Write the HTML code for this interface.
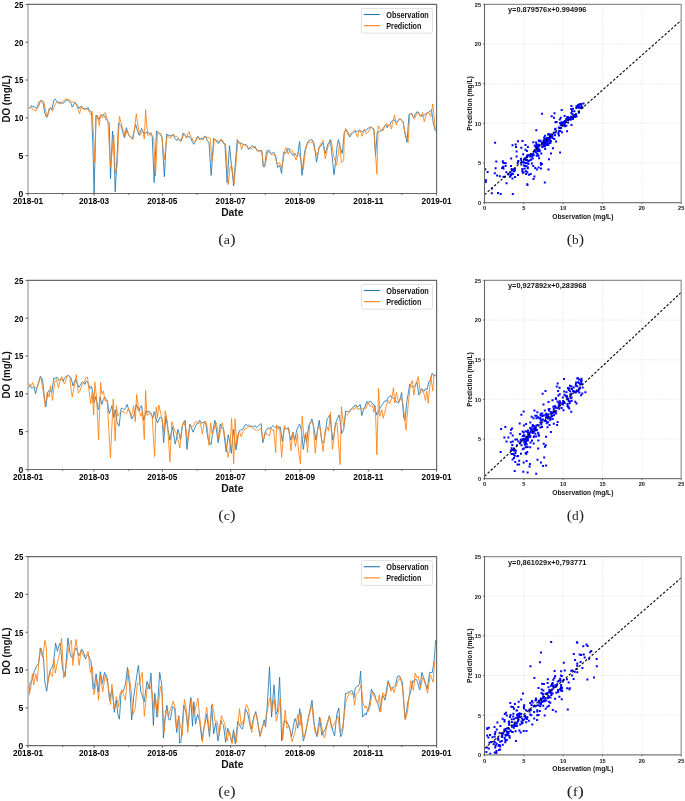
<!DOCTYPE html>
<html><head><meta charset="utf-8"><style>
html,body{margin:0;padding:0;background:#fff;}
svg{display:block;}
.tk{font-family:'Liberation Sans', Arial, sans-serif;font-size:8.6px;font-weight:bold;fill:#000;}
.lb{font-family:'Liberation Sans', Arial, sans-serif;font-size:10.3px;font-weight:bold;fill:#111;}
.lg{font-family:'Liberation Sans', Arial, sans-serif;font-size:8.6px;font-weight:bold;fill:#111;}
.st{font-family:'Liberation Sans', Arial, sans-serif;font-size:5.6px;font-weight:bold;fill:#111;}
.sl{font-family:'Liberation Sans', Arial, sans-serif;font-size:6.9px;font-weight:bold;fill:#111;}
.eq{font-family:'Liberation Sans', Arial, sans-serif;font-size:7.4px;font-weight:bold;fill:#111;}
.cap{font-family:'Liberation Serif', 'Times New Roman', serif;font-size:15px;fill:#222;}
</style></head><body>
<svg width="685" height="801" viewBox="0 0 685 801">
<rect width="685" height="801" fill="#fff"/>
<clipPath id="cp0"><rect x="28.0" y="4.4" width="408.6" height="189.1"/></clipPath>
<g clip-path="url(#cp0)" fill="none" stroke-width="0.85" stroke-linejoin="round">
<polyline stroke="#1f77b4" points="28.0,107.2 29.2,107.6 30.4,107.5 31.5,105.3 32.7,106.8 33.9,106.5 35.2,107.7 36.6,108.5 37.9,105.1 39.2,101.9 41.2,100.3 43.2,103.2 44.5,111.5 45.8,116.5 47.2,117.1 49.2,108.5 50.5,108.0 51.8,109.8 53.8,100.6 55.1,99.0 56.4,100.6 58.4,103.2 60.4,101.9 61.8,103.3 63.1,103.2 64.4,102.1 65.7,101.1 67.0,99.3 68.3,100.8 69.7,101.9 71.0,103.6 72.3,107.2 73.7,104.8 75.0,102.6 76.3,103.9 77.6,105.4 78.9,108.5 80.2,106.7 81.6,107.2 82.9,108.7 84.2,108.5 85.6,108.3 86.9,108.5 88.2,107.5 89.5,110.5 91.5,111.8 92.8,142.9 94.1,193.2 96.0,115.1 97.3,116.9 98.6,120.4 99.9,116.8 101.3,115.1 102.9,114.9 104.6,115.8 105.9,119.1 107.2,120.4 109.2,123.1 110.5,178.7 112.5,131.0 113.8,145.6 115.2,191.9 116.5,169.4 118.5,123.1 119.8,124.3 121.1,125.7 122.8,131.9 124.4,137.6 126.4,127.7 127.8,132.8 129.1,135.7 130.8,137.4 132.4,139.0 134.1,130.9 135.7,124.4 137.3,130.3 139.0,135.0 140.3,132.3 141.6,128.4 142.9,131.2 144.3,133.7 145.6,133.0 147.0,132.4 148.3,132.3 149.6,133.9 150.9,133.8 152.2,136.3 154.2,182.6 155.3,156.5 156.5,131.0 158.0,132.2 159.5,133.7 160.8,135.7 162.1,137.0 163.2,157.8 164.4,176.7 166.6,134.3 168.2,135.0 169.9,135.7 171.6,136.1 173.2,134.3 174.6,137.6 175.9,139.6 177.2,140.4 178.5,138.3 179.8,139.6 181.2,140.9 183.2,133.0 184.8,134.7 186.5,137.6 188.2,136.3 189.8,137.0 191.1,138.7 192.5,142.5 193.8,144.3 195.4,141.1 197.1,137.0 198.2,136.4 199.4,139.2 200.5,138.6 201.7,138.3 203.0,139.1 204.4,136.3 205.7,136.3 207.3,140.5 209.0,142.9 211.2,175.4 212.4,157.8 213.6,138.3 214.8,139.7 215.9,140.0 217.0,142.2 218.2,143.6 219.6,142.4 220.9,139.6 222.2,141.0 223.6,143.2 224.9,143.6 227.1,182.6 228.3,164.6 229.5,145.6 231.6,166.8 233.7,185.9 235.3,164.1 237.3,139.6 238.6,141.7 239.9,142.9 241.6,143.4 243.2,144.3 244.5,144.7 245.9,144.4 247.2,146.2 248.5,149.4 249.8,148.2 251.2,146.4 252.5,145.6 253.8,147.6 255.2,147.0 256.5,149.5 257.8,151.4 259.1,150.4 260.4,150.9 261.8,150.2 263.1,166.8 264.7,166.8 266.4,152.2 267.7,150.3 269.0,150.2 270.4,152.7 271.7,153.5 273.7,152.2 275.7,156.2 277.6,167.4 279.6,165.4 281.6,173.4 283.6,152.2 285.6,153.5 286.9,150.9 288.2,148.2 289.9,151.2 291.5,153.5 293.1,155.4 294.8,153.5 296.1,155.5 297.5,156.2 299.6,141.6 300.8,158.9 302.0,175.4 303.3,163.3 304.6,152.2 306.2,146.0 307.9,141.6 309.2,140.4 310.6,139.9 311.9,139.6 313.9,142.9 315.2,151.5 316.5,162.1 317.9,154.7 319.2,146.9 320.9,146.3 322.5,142.9 323.8,145.9 325.1,153.5 326.5,149.4 327.8,144.3 329.1,142.1 330.4,139.6 331.6,151.5 332.8,162.8 334.0,174.7 335.5,162.6 337.0,146.9 338.4,139.6 340.3,148.2 342.3,153.5 344.3,132.3 346.3,129.7 348.0,132.3 349.6,137.0 350.9,135.2 352.3,133.6 353.6,132.3 354.9,131.9 356.2,131.6 357.5,131.0 358.8,131.2 360.2,130.2 361.5,131.7 362.8,131.6 364.2,129.9 365.5,130.4 366.8,129.7 368.1,128.0 369.3,127.9 370.6,126.8 372.2,128.4 373.9,129.0 375.5,156.2 377.2,132.3 378.3,131.5 379.5,131.7 380.6,131.0 381.9,130.6 383.2,128.3 384.5,126.4 385.8,124.9 387.2,127.7 388.5,125.1 389.8,124.9 391.2,121.8 392.5,121.1 393.8,119.7 395.1,120.8 396.4,121.8 397.6,121.7 398.8,119.9 399.9,118.6 401.1,119.8 403.1,121.8 405.0,133.7 407.0,142.3 409.0,114.5 410.4,114.1 411.7,113.8 413.6,117.8 415.2,114.3 416.9,111.8 418.0,112.0 419.2,113.5 420.3,115.8 422.0,116.0 423.6,115.1 424.9,114.8 426.2,113.1 427.5,113.2 428.8,111.9 430.2,111.0 431.5,109.8 433.5,124.4 435.5,131.0"/>
<polyline stroke="#ff7f0e" points="28.0,106.5 29.1,108.0 30.3,107.9 31.5,107.3 32.6,109.2 34.2,110.1 35.9,111.2 37.9,107.2 39.2,105.7 40.6,100.6 42.2,101.0 43.9,101.9 45.5,110.1 47.2,117.1 48.5,112.9 49.8,107.9 51.1,107.9 52.5,111.2 54.5,105.9 56.1,102.9 57.8,101.2 59.7,103.9 61.0,103.7 62.4,101.9 63.5,101.1 64.7,99.7 65.8,99.6 67.0,98.6 68.3,100.1 69.7,99.8 71.0,101.9 72.3,102.1 73.7,102.1 75.0,101.9 76.9,106.5 78.2,109.9 79.6,113.8 81.6,105.9 82.9,108.7 84.2,109.2 85.5,109.3 86.9,109.1 88.2,109.8 89.5,112.3 90.8,114.5 92.2,111.2 93.5,136.2 94.8,162.1 96.0,116.5 97.7,115.1 99.3,125.7 100.6,114.5 102.6,117.8 103.9,113.9 105.2,112.5 106.6,117.1 107.9,121.8 109.2,143.8 110.5,166.8 112.2,151.1 113.8,135.0 115.2,173.4 117.2,165.4 119.4,116.5 121.0,122.6 122.5,128.4 123.8,130.5 125.1,136.3 127.1,129.7 128.4,133.6 129.7,136.3 131.3,137.7 133.0,139.6 134.7,126.5 136.3,113.8 137.4,121.8 138.6,129.1 139.7,135.7 141.3,133.2 143.0,131.0 144.3,139.0 145.6,109.8 147.6,135.0 149.2,135.4 150.9,132.3 152.2,135.8 153.5,137.6 155.5,176.0 157.5,132.3 159.2,133.0 160.8,133.7 162.0,137.6 163.2,149.6 164.4,159.5 165.9,145.8 167.3,135.0 168.6,136.5 169.9,138.3 171.2,137.2 172.6,134.3 173.8,135.2 174.9,136.9 176.0,135.7 177.2,137.0 178.8,139.7 180.5,141.6 182.2,138.9 183.8,133.7 185.2,135.0 186.5,138.3 187.8,133.7 189.1,131.7 190.5,136.3 191.8,137.5 193.1,141.0 194.4,142.3 196.1,140.7 197.7,136.3 199.0,138.7 200.4,140.2 201.7,139.6 202.8,140.2 204.0,138.2 205.2,136.9 206.3,137.0 207.6,137.6 209.0,137.4 210.3,139.0 212.0,161.5 213.2,151.7 214.3,139.0 215.5,139.5 216.6,140.6 217.8,140.1 218.9,142.3 220.2,140.3 221.5,139.6 222.8,140.5 224.2,144.6 225.5,144.3 226.8,163.9 228.2,184.6 230.1,166.8 232.0,166.8 234.0,184.0 236.0,162.8 237.9,140.9 239.1,143.4 240.3,142.9 241.6,149.5 243.2,144.3 244.4,145.1 245.6,145.4 246.8,145.2 248.1,148.5 249.3,147.8 250.5,148.9 252.2,148.2 253.8,146.9 255.1,146.1 256.5,150.3 257.8,150.2 259.1,151.0 260.5,151.1 261.8,151.5 263.7,166.8 265.7,162.8 267.7,151.5 269.4,152.5 271.0,154.2 272.3,154.6 273.7,155.0 275.0,154.8 276.3,161.2 277.6,164.1 279.6,162.8 281.6,168.1 283.0,161.2 284.3,151.5 286.2,147.6 288.2,154.2 290.2,148.9 291.5,150.3 292.9,152.2 294.5,156.2 296.2,160.1 298.1,152.2 299.4,154.4 300.6,158.8 302.0,164.3 303.3,169.4 305.3,150.9 307.0,145.1 308.6,141.6 310.6,142.9 312.6,140.9 313.9,146.4 315.2,150.9 317.2,155.5 318.5,150.4 319.8,145.6 321.5,142.6 323.1,140.3 325.1,158.8 326.5,153.6 327.8,146.9 329.5,143.9 331.1,140.3 332.4,148.2 333.7,156.2 335.0,160.2 336.4,165.4 338.4,153.5 339.7,142.9 341.4,162.8 342.5,161.6 343.7,160.8 344.3,133.7 345.6,128.4 347.2,132.8 348.9,135.7 350.0,134.2 351.2,133.0 352.3,132.3 353.6,131.0 354.9,129.7 356.2,133.5 357.5,137.0 359.5,129.7 360.9,132.5 362.2,136.3 364.2,129.0 366.1,133.7 367.4,132.7 368.6,131.7 370.6,127.1 372.2,127.4 373.9,129.7 375.4,151.8 376.9,174.0 378.2,125.7 379.4,127.7 380.6,129.7 381.9,130.6 383.2,130.4 384.9,126.1 386.5,123.1 387.8,126.3 389.2,124.4 390.5,125.1 391.4,129.0 392.9,121.6 394.5,115.1 396.2,125.1 397.8,121.1 399.1,119.3 400.4,119.1 401.8,120.6 403.1,121.8 404.4,129.9 405.7,135.0 406.9,137.5 408.1,142.3 409.7,115.1 411.7,113.2 413.0,116.6 414.3,119.1 416.0,115.3 417.6,112.5 419.2,114.2 420.9,117.1 422.6,112.5 424.2,121.8 426.2,115.1 427.5,112.8 428.9,112.5 430.8,116.5 432.8,103.9 434.1,116.5 435.5,131.0"/>
</g>
<line x1="28.0" y1="4.4" x2="28.0" y2="193.5" stroke="#bdbdbd" stroke-width="1.8"/>
<line x1="27.5" y1="4.4" x2="437.1" y2="4.4" stroke="#6a6a6a" stroke-width="1.2"/>
<line x1="27.5" y1="193.5" x2="437.1" y2="193.5" stroke="#6a6a6a" stroke-width="1.2"/>
<line x1="436.6" y1="4.4" x2="436.6" y2="193.5" stroke="#6a6a6a" stroke-width="1.2"/>
<line x1="25.5" y1="193.50" x2="28.0" y2="193.50" stroke="#555" stroke-width="0.9"/>
<text x="23.4" y="196.90" text-anchor="end" class="tk">0</text>
<line x1="25.5" y1="155.68" x2="28.0" y2="155.68" stroke="#555" stroke-width="0.9"/>
<text x="23.4" y="159.08" text-anchor="end" class="tk">5</text>
<line x1="25.5" y1="117.86" x2="28.0" y2="117.86" stroke="#555" stroke-width="0.9"/>
<text x="23.4" y="121.26" text-anchor="end" class="tk" textLength="8.8" lengthAdjust="spacingAndGlyphs">10</text>
<line x1="25.5" y1="80.04" x2="28.0" y2="80.04" stroke="#555" stroke-width="0.9"/>
<text x="23.4" y="83.44" text-anchor="end" class="tk" textLength="8.8" lengthAdjust="spacingAndGlyphs">15</text>
<line x1="25.5" y1="42.22" x2="28.0" y2="42.22" stroke="#555" stroke-width="0.9"/>
<text x="23.4" y="45.62" text-anchor="end" class="tk" textLength="8.8" lengthAdjust="spacingAndGlyphs">20</text>
<line x1="25.5" y1="4.40" x2="28.0" y2="4.40" stroke="#555" stroke-width="0.9"/>
<text x="23.4" y="7.80" text-anchor="end" class="tk" textLength="8.8" lengthAdjust="spacingAndGlyphs">25</text>
<line x1="28.00" y1="193.5" x2="28.00" y2="195.7" stroke="#555" stroke-width="0.9"/>
<text x="28.00" y="204.00" text-anchor="middle" class="tk" textLength="30" lengthAdjust="spacingAndGlyphs">2018-01</text>
<line x1="62.70" y1="193.5" x2="62.70" y2="194.9" stroke="#555" stroke-width="0.9"/>
<line x1="94.05" y1="193.5" x2="94.05" y2="195.7" stroke="#555" stroke-width="0.9"/>
<text x="94.05" y="204.00" text-anchor="middle" class="tk" textLength="30" lengthAdjust="spacingAndGlyphs">2018-03</text>
<line x1="128.75" y1="193.5" x2="128.75" y2="194.9" stroke="#555" stroke-width="0.9"/>
<line x1="162.33" y1="193.5" x2="162.33" y2="195.7" stroke="#555" stroke-width="0.9"/>
<text x="162.33" y="204.00" text-anchor="middle" class="tk" textLength="30" lengthAdjust="spacingAndGlyphs">2018-05</text>
<line x1="197.04" y1="193.5" x2="197.04" y2="194.9" stroke="#555" stroke-width="0.9"/>
<line x1="230.62" y1="193.5" x2="230.62" y2="195.7" stroke="#555" stroke-width="0.9"/>
<text x="230.62" y="204.00" text-anchor="middle" class="tk" textLength="30" lengthAdjust="spacingAndGlyphs">2018-07</text>
<line x1="265.32" y1="193.5" x2="265.32" y2="194.9" stroke="#555" stroke-width="0.9"/>
<line x1="300.03" y1="193.5" x2="300.03" y2="195.7" stroke="#555" stroke-width="0.9"/>
<text x="300.03" y="204.00" text-anchor="middle" class="tk" textLength="30" lengthAdjust="spacingAndGlyphs">2018-09</text>
<line x1="333.61" y1="193.5" x2="333.61" y2="194.9" stroke="#555" stroke-width="0.9"/>
<line x1="368.31" y1="193.5" x2="368.31" y2="195.7" stroke="#555" stroke-width="0.9"/>
<text x="368.31" y="204.00" text-anchor="middle" class="tk" textLength="30" lengthAdjust="spacingAndGlyphs">2018-11</text>
<line x1="401.90" y1="193.5" x2="401.90" y2="194.9" stroke="#555" stroke-width="0.9"/>
<line x1="436.60" y1="193.5" x2="436.60" y2="195.7" stroke="#555" stroke-width="0.9"/>
<text x="436.60" y="204.00" text-anchor="middle" class="tk" textLength="30" lengthAdjust="spacingAndGlyphs">2019-01</text>
<text x="232.30" y="216.00" text-anchor="middle" class="lb">Date</text>
<text transform="translate(10.4,98.95) rotate(-90)" text-anchor="middle" class="lb" textLength="47.3" lengthAdjust="spacingAndGlyphs">DO (mg/L)</text>
<rect x="361.5" y="8.4" width="71" height="24.8" rx="1.8" fill="#fff" fill-opacity="0.8" stroke="#d9d9d9" stroke-width="0.8"/>
<line x1="363.7" y1="14.50" x2="379.8" y2="14.50" stroke="#1f77b4" stroke-width="1.1"/>
<line x1="363.7" y1="25.70" x2="379.8" y2="25.70" stroke="#ff7f0e" stroke-width="1.1"/>
<text x="386.3" y="17.80" class="lg" textLength="42.5" lengthAdjust="spacingAndGlyphs">Observation</text>
<text x="386.3" y="29.00" class="lg" textLength="35.1" lengthAdjust="spacingAndGlyphs">Prediction</text>
<line x1="523.84" y1="4.4" x2="523.84" y2="202.6" stroke="#e4e4e4" stroke-width="0.8" stroke-dasharray="1.2,0.9"/>
<line x1="484.5" y1="162.96" x2="681.2" y2="162.96" stroke="#e4e4e4" stroke-width="0.8" stroke-dasharray="1.2,0.9"/>
<line x1="563.18" y1="4.4" x2="563.18" y2="202.6" stroke="#e4e4e4" stroke-width="0.8" stroke-dasharray="1.2,0.9"/>
<line x1="484.5" y1="123.32" x2="681.2" y2="123.32" stroke="#e4e4e4" stroke-width="0.8" stroke-dasharray="1.2,0.9"/>
<line x1="602.52" y1="4.4" x2="602.52" y2="202.6" stroke="#e4e4e4" stroke-width="0.8" stroke-dasharray="1.2,0.9"/>
<line x1="484.5" y1="83.68" x2="681.2" y2="83.68" stroke="#e4e4e4" stroke-width="0.8" stroke-dasharray="1.2,0.9"/>
<line x1="641.86" y1="4.4" x2="641.86" y2="202.6" stroke="#e4e4e4" stroke-width="0.8" stroke-dasharray="1.2,0.9"/>
<line x1="484.5" y1="44.04" x2="681.2" y2="44.04" stroke="#e4e4e4" stroke-width="0.8" stroke-dasharray="1.2,0.9"/>
<clipPath id="sc0"><rect x="484.5" y="4.4" width="196.70000000000005" height="198.2"/></clipPath>
<path clip-path="url(#sc0)" fill="#0000ff" d="M573.4 110.2h2v2h-2zM575.6 115.4h2v2h-2zM572.7 114.6h2v2h-2zM573.9 114.0h2v2h-2zM571.5 113.2h2v2h-2zM575.0 113.8h2v2h-2zM581.5 106.5h2v2h-2zM580.2 103.0h2v2h-2zM580.4 105.0h2v2h-2zM578.5 103.3h2v2h-2zM575.3 107.1h2v2h-2zM563.6 114.9h2v2h-2zM563.8 119.9h2v2h-2zM570.5 112.2h2v2h-2zM571.1 110.1h2v2h-2zM569.9 116.0h2v2h-2zM572.0 117.9h2v2h-2zM578.0 111.2h2v2h-2zM577.8 111.8h2v2h-2zM579.8 107.1h2v2h-2zM578.0 106.7h2v2h-2zM577.0 104.2h2v2h-2zM578.4 106.5h2v2h-2zM576.9 106.4h2v2h-2zM577.7 105.6h2v2h-2zM577.8 105.0h2v2h-2zM582.5 102.6h2v2h-2zM577.6 103.9h2v2h-2zM575.5 105.2h2v2h-2zM570.4 104.9h2v2h-2zM577.3 106.2h2v2h-2zM572.0 107.7h2v2h-2zM569.9 115.7h2v2h-2zM573.8 116.1h2v2h-2zM570.2 107.9h2v2h-2zM573.0 114.5h2v2h-2zM572.4 116.1h2v2h-2zM570.4 112.1h2v2h-2zM570.5 116.9h2v2h-2zM569.7 118.7h2v2h-2zM570.0 117.4h2v2h-2zM550.7 115.2h2v2h-2zM535.3 129.3h2v2h-2zM512.3 169.4h2v2h-2zM565.0 120.9h2v2h-2zM560.3 122.8h2v2h-2zM561.1 124.5h2v2h-2zM558.3 130.1h2v2h-2zM562.1 121.3h2v2h-2zM563.7 121.1h2v2h-2zM561.8 122.2h2v2h-2zM567.0 117.1h2v2h-2zM559.8 116.7h2v2h-2zM559.1 121.9h2v2h-2zM557.8 126.4h2v2h-2zM559.1 151.5h2v2h-2zM496.1 174.6h2v2h-2zM550.0 152.4h2v2h-2zM532.3 141.2h2v2h-2zM484.9 179.3h2v2h-2zM507.6 173.6h2v2h-2zM526.3 171.3h2v2h-2zM555.1 140.4h2v2h-2zM555.7 121.1h2v2h-2zM554.5 127.7h2v2h-2zM551.4 134.2h2v2h-2zM538.2 140.3h2v2h-2zM547.4 143.9h2v2h-2zM553.3 137.9h2v2h-2zM549.1 136.3h2v2h-2zM544.1 142.1h2v2h-2zM542.3 141.4h2v2h-2zM542.5 143.8h2v2h-2zM543.2 145.6h2v2h-2zM555.1 121.0h2v2h-2zM553.0 116.7h2v2h-2zM544.1 134.8h2v2h-2zM545.9 141.9h2v2h-2zM550.0 140.3h2v2h-2zM551.3 135.3h2v2h-2zM543.0 144.0h2v2h-2zM541.1 112.8h2v2h-2zM546.7 139.7h2v2h-2zM547.0 137.9h2v2h-2zM544.9 137.9h2v2h-2zM542.7 139.3h2v2h-2zM511.5 144.3h2v2h-2zM495.3 160.4h2v2h-2zM526.5 183.9h2v2h-2zM547.9 158.2h2v2h-2zM547.0 139.8h2v2h-2zM548.5 136.9h2v2h-2zM544.7 139.9h2v2h-2zM541.0 143.6h2v2h-2zM545.6 143.9h2v2h-2zM502.1 165.7h2v2h-2zM544.2 147.9h2v2h-2zM543.1 140.1h2v2h-2zM544.0 143.1h2v2h-2zM543.6 138.4h2v2h-2zM543.6 141.0h2v2h-2zM537.7 139.4h2v2h-2zM539.5 139.7h2v2h-2zM542.5 140.8h2v2h-2zM538.3 149.1h2v2h-2zM536.2 145.2h2v2h-2zM547.4 143.1h2v2h-2zM545.7 138.4h2v2h-2zM542.8 143.0h2v2h-2zM543.8 138.5h2v2h-2zM542.0 141.5h2v2h-2zM540.7 141.4h2v2h-2zM534.6 146.1h2v2h-2zM534.5 149.1h2v2h-2zM543.2 143.2h2v2h-2zM544.0 145.3h2v2h-2zM541.2 146.1h2v2h-2zM542.7 142.5h2v2h-2zM541.4 142.2h2v2h-2zM535.0 141.5h2v2h-2zM515.0 146.1h2v2h-2zM501.8 160.2h2v2h-2zM514.0 167.4h2v2h-2zM540.3 152.5h2v2h-2zM537.8 144.1h2v2h-2zM535.9 146.4h2v2h-2zM536.6 147.1h2v2h-2zM537.9 143.7h2v2h-2zM535.7 143.2h2v2h-2zM535.4 151.7h2v2h-2zM525.9 150.1h2v2h-2zM493.8 172.2h2v2h-2zM511.8 192.9h2v2h-2zM532.5 178.1h2v2h-2zM527.9 173.7h2v2h-2zM510.0 174.2h2v2h-2zM508.9 171.4h2v2h-2zM491.0 187.5h2v2h-2zM497.0 192.0h2v2h-2zM514.1 175.9h2v2h-2zM522.7 171.3h2v2h-2zM537.5 154.8h2v2h-2zM537.8 145.2h2v2h-2zM535.8 148.2h2v2h-2zM536.9 150.1h2v2h-2zM535.7 154.8h2v2h-2zM533.7 149.6h2v2h-2zM533.3 150.8h2v2h-2zM532.0 153.0h2v2h-2zM531.1 155.2h2v2h-2zM532.7 154.3h2v2h-2zM531.4 153.0h2v2h-2zM530.4 155.4h2v2h-2zM529.5 154.1h2v2h-2zM526.5 154.8h2v2h-2zM529.1 155.6h2v2h-2zM510.6 168.0h2v2h-2zM510.2 174.0h2v2h-2zM513.0 170.2h2v2h-2zM521.4 169.9h2v2h-2zM525.4 164.9h2v2h-2zM527.6 160.0h2v2h-2zM529.3 159.3h2v2h-2zM525.1 158.4h2v2h-2zM524.9 162.0h2v2h-2zM527.4 163.0h2v2h-2zM521.2 161.3h2v2h-2zM522.8 161.3h2v2h-2zM511.7 168.7h2v2h-2zM513.4 169.9h2v2h-2zM502.5 175.7h2v2h-2zM526.9 162.2h2v2h-2zM524.8 158.9h2v2h-2zM525.9 154.7h2v2h-2zM527.2 153.9h2v2h-2zM530.9 162.5h2v2h-2zM526.2 155.7h2v2h-2zM524.3 156.9h2v2h-2zM526.3 159.5h2v2h-2zM523.8 164.7h2v2h-2zM524.4 165.3h2v2h-2zM523.0 158.2h2v2h-2zM526.2 158.7h2v2h-2zM540.9 163.1h2v2h-2zM522.9 164.5h2v2h-2zM505.4 171.3h2v2h-2zM511.5 177.5h2v2h-2zM523.3 161.8h2v2h-2zM530.2 158.4h2v2h-2zM538.4 150.3h2v2h-2zM537.4 148.2h2v2h-2zM538.8 149.8h2v2h-2zM536.9 147.5h2v2h-2zM537.5 145.6h2v2h-2zM534.7 149.7h2v2h-2zM525.8 156.0h2v2h-2zM517.4 160.0h2v2h-2zM520.3 163.6h2v2h-2zM532.5 153.9h2v2h-2zM531.7 152.7h2v2h-2zM535.5 147.0h2v2h-2zM533.7 144.4h2v2h-2zM524.7 164.9h2v2h-2zM536.5 153.1h2v2h-2zM538.3 148.4h2v2h-2zM535.1 145.9h2v2h-2zM504.7 162.3h2v2h-2zM504.6 164.9h2v2h-2zM525.1 172.9h2v2h-2zM534.3 167.1h2v2h-2zM539.8 162.0h2v2h-2zM534.0 149.2h2v2h-2zM531.7 157.6h2v2h-2zM526.7 167.2h2v2h-2zM523.6 167.7h2v2h-2zM537.7 166.6h2v2h-2zM548.9 138.4h2v2h-2zM547.9 133.0h2v2h-2zM549.0 134.6h2v2h-2zM543.8 143.3h2v2h-2zM545.1 139.9h2v2h-2zM543.1 136.6h2v2h-2zM547.5 138.1h2v2h-2zM547.0 133.6h2v2h-2zM549.3 141.4h2v2h-2zM545.6 136.9h2v2h-2zM547.2 140.5h2v2h-2zM549.2 142.1h2v2h-2zM550.9 134.7h2v2h-2zM551.4 136.8h2v2h-2zM548.4 140.7h2v2h-2zM551.5 137.1h2v2h-2zM552.7 131.7h2v2h-2zM548.6 133.7h2v2h-2zM520.3 159.4h2v2h-2zM543.8 181.5h2v2h-2zM547.5 168.5h2v2h-2zM547.4 133.4h2v2h-2zM550.2 133.4h2v2h-2zM550.3 135.9h2v2h-2zM554.0 134.2h2v2h-2zM554.0 128.4h2v2h-2zM554.6 131.5h2v2h-2zM557.4 132.8h2v2h-2zM557.9 134.5h2v2h-2zM559.2 129.9h2v2h-2zM558.8 118.4h2v2h-2zM560.9 131.2h2v2h-2zM557.6 131.2h2v2h-2zM560.1 127.1h2v2h-2zM560.7 121.2h2v2h-2zM559.7 124.3h2v2h-2zM559.2 127.3h2v2h-2zM544.5 138.0h2v2h-2zM544.2 141.9h2v2h-2zM535.6 144.7h2v2h-2zM552.0 147.3h2v2h-2zM566.1 130.3h2v2h-2zM567.0 117.8h2v2h-2zM567.7 117.0h2v2h-2zM563.5 122.9h2v2h-2zM563.3 124.8h2v2h-2zM567.1 121.5h2v2h-2zM568.4 118.2h2v2h-2zM564.8 120.0h2v2h-2zM563.1 122.0h2v2h-2zM566.2 116.2h2v2h-2zM565.3 124.7h2v2h-2zM564.0 125.2h2v2h-2zM567.0 119.0h2v2h-2zM565.2 118.1h2v2h-2zM567.0 116.1h2v2h-2zM570.5 124.1h2v2h-2zM568.4 117.1h2v2h-2zM560.7 109.0h2v2h-2zM553.5 112.2h2v2h-2zM554.4 121.2h2v2h-2zM547.5 136.8h2v2h-2zM494.1 141.7h2v2h-2zM516.9 140.3h2v2h-2zM521.5 140.1h2v2h-2zM514.7 143.6h2v2h-2zM520.3 146.7h2v2h-2zM524.5 144.1h2v2h-2zM526.9 146.0h2v2h-2zM524.5 148.8h2v2h-2zM515.6 150.4h2v2h-2zM522.2 153.3h2v2h-2zM515.6 155.6h2v2h-2zM510.2 157.4h2v2h-2zM519.9 157.7h2v2h-2zM502.1 161.4h2v2h-2zM503.0 162.1h2v2h-2zM517.0 160.5h2v2h-2zM516.6 162.3h2v2h-2zM510.0 165.0h2v2h-2zM494.6 167.3h2v2h-2zM501.1 167.0h2v2h-2zM502.5 167.5h2v2h-2zM484.3 168.2h2v2h-2zM486.6 171.0h2v2h-2zM521.3 168.0h2v2h-2zM521.7 171.7h2v2h-2zM513.8 168.9h2v2h-2zM511.0 172.6h2v2h-2zM511.9 173.1h2v2h-2zM510.0 174.0h2v2h-2zM517.0 174.0h2v2h-2zM498.8 175.2h2v2h-2zM503.9 175.7h2v2h-2zM509.1 175.7h2v2h-2zM484.7 181.1h2v2h-2zM505.5 182.2h2v2h-2zM526.2 183.2h2v2h-2zM490.8 192.3h2v2h-2zM499.7 193.0h2v2h-2zM529.7 173.1h2v2h-2zM533.4 175.4h2v2h-2zM535.8 168.4h2v2h-2zM532.3 165.1h2v2h-2zM525.0 170.3h2v2h-2zM526.9 166.6h2v2h-2zM524.1 164.7h2v2h-2zM538.1 157.2h2v2h-2zM540.0 163.7h2v2h-2zM540.0 167.5h2v2h-2z"/>
<line clip-path="url(#sc0)" x1="484.50" y1="194.71" x2="681.20" y2="20.38" stroke="#000" stroke-width="1.1" stroke-dasharray="2.5,1.8"/>
<line x1="484.0" y1="4.4" x2="681.7" y2="4.4" stroke="#8f8f8f" stroke-width="1.2"/>
<line x1="484.0" y1="202.6" x2="681.7" y2="202.6" stroke="#7a7a7a" stroke-width="1.2"/>
<line x1="484.5" y1="4.4" x2="484.5" y2="202.6" stroke="#666" stroke-width="1.1"/>
<line x1="681.2" y1="4.4" x2="681.2" y2="202.6" stroke="#a8a8a8" stroke-width="1.5"/>
<line x1="484.50" y1="202.6" x2="484.50" y2="204.2" stroke="#555" stroke-width="0.8"/>
<line x1="482.9" y1="202.60" x2="484.5" y2="202.60" stroke="#555" stroke-width="0.8"/>
<text x="484.50" y="210.40" text-anchor="middle" class="st">0</text>
<text x="481.10" y="205.00" text-anchor="end" class="st">0</text>
<line x1="523.84" y1="202.6" x2="523.84" y2="204.2" stroke="#555" stroke-width="0.8"/>
<line x1="482.9" y1="162.96" x2="484.5" y2="162.96" stroke="#555" stroke-width="0.8"/>
<text x="523.84" y="210.40" text-anchor="middle" class="st">5</text>
<text x="481.10" y="165.36" text-anchor="end" class="st">5</text>
<line x1="563.18" y1="202.6" x2="563.18" y2="204.2" stroke="#555" stroke-width="0.8"/>
<line x1="482.9" y1="123.32" x2="484.5" y2="123.32" stroke="#555" stroke-width="0.8"/>
<text x="563.18" y="210.40" text-anchor="middle" class="st">10</text>
<text x="481.10" y="125.72" text-anchor="end" class="st">10</text>
<line x1="602.52" y1="202.6" x2="602.52" y2="204.2" stroke="#555" stroke-width="0.8"/>
<line x1="482.9" y1="83.68" x2="484.5" y2="83.68" stroke="#555" stroke-width="0.8"/>
<text x="602.52" y="210.40" text-anchor="middle" class="st">15</text>
<text x="481.10" y="86.08" text-anchor="end" class="st">15</text>
<line x1="641.86" y1="202.6" x2="641.86" y2="204.2" stroke="#555" stroke-width="0.8"/>
<line x1="482.9" y1="44.04" x2="484.5" y2="44.04" stroke="#555" stroke-width="0.8"/>
<text x="641.86" y="210.40" text-anchor="middle" class="st">20</text>
<text x="481.10" y="46.44" text-anchor="end" class="st">20</text>
<line x1="681.20" y1="202.6" x2="681.20" y2="204.2" stroke="#555" stroke-width="0.8"/>
<line x1="482.9" y1="4.40" x2="484.5" y2="4.40" stroke="#555" stroke-width="0.8"/>
<text x="681.20" y="210.40" text-anchor="middle" class="st">25</text>
<text x="481.10" y="6.80" text-anchor="end" class="st">25</text>
<text x="582.85" y="218.90" text-anchor="middle" class="sl" textLength="61.1" lengthAdjust="spacingAndGlyphs">Observation (mg/L)</text>
<text transform="translate(471.6,103.50) rotate(-90)" text-anchor="middle" class="sl" textLength="54.5" lengthAdjust="spacingAndGlyphs">Prediction (mg/L)</text>
<text x="508.0" y="12.40" class="eq" textLength="78.4" lengthAdjust="spacingAndGlyphs">y=0.879576x+0.994996</text>
<text x="226.9" y="244.20000000000002" text-anchor="middle" class="cap" textLength="17.3" lengthAdjust="spacingAndGlyphs">(<tspan font-size="12.6px">a</tspan>)</text>
<text x="575.3" y="243.9" text-anchor="middle" class="cap" textLength="17.3" lengthAdjust="spacingAndGlyphs">(<tspan font-size="12.6px">b</tspan>)</text>
<clipPath id="cp1"><rect x="28.0" y="280.4" width="408.6" height="189.1"/></clipPath>
<g clip-path="url(#cp1)" fill="none" stroke-width="0.85" stroke-linejoin="round">
<polyline stroke="#1f77b4" points="28.0,387.2 30.0,385.8 32.0,388.5 33.9,386.5 35.5,393.8 37.2,387.2 38.8,382.3 40.3,376.3 42.5,379.2 44.5,399.1 45.8,407.0 47.8,392.5 49.8,389.8 51.8,392.5 53.8,377.9 55.5,378.3 57.1,377.2 59.1,380.6 61.1,378.6 63.1,381.2 64.4,378.2 65.7,376.6 67.0,376.1 68.3,375.3 69.7,376.4 71.0,377.9 73.0,385.8 74.3,382.3 75.6,379.2 77.2,383.8 78.9,387.2 80.6,385.0 82.2,381.9 83.6,382.5 84.9,384.5 86.2,381.2 87.5,381.9 88.8,385.0 90.2,388.5 91.5,386.5 92.8,392.5 94.1,403.0 96.0,396.4 97.3,405.1 98.6,409.7 100.0,397.1 101.9,404.4 103.2,399.6 104.6,397.1 105.9,399.4 107.2,400.4 109.2,413.6 110.6,410.4 111.9,405.7 113.8,417.6 115.2,409.7 117.2,422.9 119.1,426.2 121.1,408.3 122.4,408.3 123.8,409.7 125.4,408.6 127.1,404.4 128.4,408.4 129.7,411.0 131.7,418.9 133.7,415.6 135.0,410.8 136.3,404.4 137.7,408.1 139.0,411.0 140.3,406.8 141.6,405.7 143.6,420.3 144.9,415.7 146.3,410.3 147.5,412.8 148.6,411.1 149.8,411.8 150.9,413.6 152.9,418.3 154.2,411.7 155.8,418.0 157.5,422.9 158.8,419.8 160.2,416.9 162.1,418.9 163.6,442.7 164.8,429.2 166.0,416.3 168.0,429.5 169.9,440.1 171.2,433.1 172.6,426.9 173.9,436.2 175.2,444.1 176.6,438.0 177.9,429.5 179.2,433.8 180.5,440.1 182.5,425.5 183.8,423.0 185.2,420.3 186.9,449.4 188.4,436.2 189.8,424.2 191.4,427.9 193.1,432.2 194.8,428.0 196.4,424.2 198.1,423.3 199.7,420.3 201.1,422.6 202.4,422.9 204.1,422.3 205.7,422.9 207.0,432.6 208.3,440.1 209.7,442.4 211.0,444.7 212.9,430.8 214.9,420.3 216.6,431.0 218.2,442.7 220.2,424.2 221.8,427.6 223.5,429.5 224.8,441.1 226.2,452.0 228.2,434.8 230.0,442.7 231.3,453.3 233.3,429.5 234.7,439.8 236.0,450.0 237.9,434.8 239.2,430.7 240.6,430.2 241.9,429.7 243.2,428.9 244.6,425.9 245.9,424.2 247.2,425.6 248.5,425.2 249.8,426.2 251.1,426.0 252.5,426.6 253.8,426.9 255.1,425.5 256.5,427.7 257.8,426.2 259.5,424.9 261.1,423.6 262.8,442.7 264.0,438.2 265.1,432.2 266.4,430.2 267.7,428.2 269.7,428.2 271.4,427.5 273.0,425.5 275.0,427.5 276.3,427.1 277.6,426.2 279.0,427.7 280.3,426.9 282.3,441.4 284.3,428.2 285.6,428.4 286.9,428.8 288.2,427.5 289.5,434.3 290.9,440.1 292.9,432.2 294.8,440.1 296.8,429.5 298.1,426.9 299.6,424.2 301.3,429.5 303.3,449.4 305.3,434.8 306.6,442.7 308.6,425.5 310.2,423.2 311.9,418.9 313.9,428.2 315.9,440.1 317.5,430.1 319.2,420.3 320.5,430.7 321.8,441.4 323.8,442.7 325.5,431.5 327.1,418.9 328.5,417.4 329.8,415.0 331.2,426.6 332.7,440.1 334.2,433.6 335.7,422.9 337.4,418.7 339.0,415.0 340.4,422.9 341.7,433.5 343.7,429.5 345.6,411.0 347.2,411.5 348.9,411.7 350.0,410.8 351.2,409.1 352.3,408.3 354.0,406.0 355.6,405.0 357.2,406.3 358.9,406.4 360.2,404.4 361.8,415.6 363.5,409.7 364.8,407.0 366.8,401.7 368.4,402.4 370.0,401.1 371.3,402.1 372.6,404.0 373.9,404.4 375.4,410.3 376.9,415.0 378.4,411.8 379.9,408.3 381.5,405.7 383.2,403.1 384.9,400.9 386.5,401.1 388.1,397.7 389.8,395.8 391.1,396.0 392.5,397.8 393.8,398.6 395.1,400.4 396.8,401.7 398.4,403.1 400.0,398.9 401.7,392.5 403.7,417.6 405.0,420.3 407.0,400.4 408.4,392.7 409.7,383.9 411.0,386.0 412.3,387.2 413.6,386.9 415.0,385.8 416.9,381.9 418.9,395.1 420.2,392.4 421.6,388.5 422.9,389.9 424.2,391.1 425.5,388.6 426.9,389.8 428.9,381.9 430.5,379.4 432.2,373.3 433.5,375.6 434.8,375.3 436.2,376.0"/>
<polyline stroke="#ff7f0e" points="28.0,389.8 29.3,383.9 31.3,385.8 32.6,382.5 34.6,387.2 36.6,388.5 37.9,384.9 39.2,380.6 41.2,377.9 43.2,391.1 45.2,405.7 47.2,391.8 49.2,397.1 50.5,385.8 52.5,400.4 54.5,383.2 56.4,379.2 58.4,387.8 60.0,380.9 61.7,376.6 63.1,381.0 64.4,383.9 65.7,381.0 67.0,375.9 68.3,375.6 69.7,377.2 71.0,389.3 72.3,397.1 73.6,389.6 75.0,382.5 76.3,374.6 78.3,393.1 79.6,391.6 80.9,387.8 82.6,384.2 84.2,382.5 85.8,377.8 87.5,377.2 89.2,391.9 90.8,403.7 92.2,392.5 93.7,415.0 94.8,381.9 96.6,397.8 98.6,440.1 100.6,382.5 101.9,393.8 103.3,391.1 105.2,401.1 107.2,400.4 108.8,429.3 110.5,458.0 111.8,428.3 113.2,399.1 115.2,440.8 116.5,405.7 117.8,416.3 119.2,414.1 120.5,412.3 121.8,411.9 123.1,411.0 124.4,412.9 125.8,413.6 127.1,412.5 128.4,408.3 129.8,412.7 131.1,416.3 132.4,412.7 133.7,405.7 135.3,421.6 136.6,394.5 137.8,402.9 139.0,411.0 141.0,416.3 142.3,411.0 144.3,439.4 145.6,390.5 146.9,415.0 148.2,414.9 149.6,413.0 150.9,413.2 152.2,416.3 153.4,436.8 154.6,456.6 156.2,407.0 157.5,417.6 158.8,405.0 160.8,413.6 162.0,418.3 164.0,432.2 165.3,411.0 167.3,421.6 168.6,441.2 169.9,461.9 171.9,421.6 173.9,428.2 175.2,431.6 176.6,433.5 178.2,440.9 179.9,448.0 181.8,426.9 183.8,421.6 185.8,428.2 187.8,441.4 189.8,425.5 191.1,426.0 192.4,426.9 193.7,425.4 195.1,422.2 196.4,421.6 197.7,423.0 199.1,423.0 200.4,422.9 202.4,434.1 204.3,421.6 205.7,421.5 207.0,425.5 209.0,445.4 210.7,422.9 212.3,434.8 213.6,431.3 215.0,425.5 216.3,422.9 217.6,430.4 218.9,438.8 220.6,430.4 222.2,422.9 224.2,432.2 225.5,440.7 226.9,449.3 228.2,457.3 230.0,446.7 231.6,418.3 233.7,463.9 235.0,418.9 236.9,445.4 238.6,433.5 239.9,432.9 241.2,436.8 243.2,431.5 244.8,429.1 246.5,428.2 248.2,426.9 249.8,426.2 251.1,426.7 252.5,428.2 253.8,428.9 255.2,429.5 256.5,430.8 257.6,429.9 258.8,430.4 260.0,429.1 261.1,428.2 263.1,440.1 264.4,437.3 265.7,432.2 266.9,434.0 268.2,434.7 269.4,436.1 271.0,428.2 272.4,430.5 273.7,429.5 275.7,452.7 276.6,424.9 278.3,429.5 279.6,426.2 281.6,457.3 283.0,441.8 284.3,425.5 285.6,427.9 286.9,429.5 288.9,428.2 290.9,450.7 292.9,432.2 294.2,439.1 295.5,446.7 297.5,433.5 298.0,445.4 299.2,455.7 300.4,463.9 302.2,416.3 304.0,438.8 305.9,432.2 307.5,452.7 308.7,436.3 309.9,422.9 311.5,422.5 313.2,422.9 315.2,453.3 316.5,441.2 317.8,428.2 319.8,426.2 321.5,439.2 323.1,451.4 325.1,430.8 326.5,430.1 327.8,426.9 328.7,430.8 330.4,412.3 332.4,449.4 333.8,439.2 335.1,425.5 337.0,422.9 338.6,444.2 340.1,464.6 341.4,406.4 342.5,416.3 343.7,426.9 345.6,415.0 347.0,414.6 348.3,413.6 349.6,412.0 350.9,409.7 352.2,409.0 353.6,409.0 354.9,409.1 356.2,405.7 358.2,409.7 359.9,408.2 361.5,408.3 362.9,409.1 364.2,408.3 366.0,408.3 368.0,402.4 370.0,406.4 371.3,406.1 372.6,405.7 373.9,412.3 375.3,405.7 376.9,454.7 378.6,388.5 379.9,416.3 381.9,409.7 383.2,418.3 384.5,413.2 385.8,408.3 387.8,400.4 389.8,403.7 391.8,397.8 393.5,387.8 394.8,403.1 396.4,392.5 398.4,401.7 399.8,400.5 401.1,397.8 403.1,404.4 404.6,418.0 406.0,430.2 408.1,405.7 410.3,385.8 412.3,380.6 413.9,395.1 415.6,384.5 417.0,381.1 418.3,376.6 420.3,393.1 421.6,392.4 422.9,389.8 424.2,394.6 425.5,400.4 426.9,391.1 428.2,403.1 429.5,389.5 430.8,376.6 432.8,391.1 434.1,374.6 436.0,375.9"/>
</g>
<line x1="28.0" y1="280.4" x2="28.0" y2="469.5" stroke="#bdbdbd" stroke-width="1.8"/>
<line x1="27.5" y1="280.4" x2="437.1" y2="280.4" stroke="#6a6a6a" stroke-width="1.2"/>
<line x1="27.5" y1="469.5" x2="437.1" y2="469.5" stroke="#6a6a6a" stroke-width="1.2"/>
<line x1="436.6" y1="280.4" x2="436.6" y2="469.5" stroke="#6a6a6a" stroke-width="1.2"/>
<line x1="25.5" y1="469.50" x2="28.0" y2="469.50" stroke="#555" stroke-width="0.9"/>
<text x="23.4" y="472.90" text-anchor="end" class="tk">0</text>
<line x1="25.5" y1="431.68" x2="28.0" y2="431.68" stroke="#555" stroke-width="0.9"/>
<text x="23.4" y="435.08" text-anchor="end" class="tk">5</text>
<line x1="25.5" y1="393.86" x2="28.0" y2="393.86" stroke="#555" stroke-width="0.9"/>
<text x="23.4" y="397.26" text-anchor="end" class="tk" textLength="8.8" lengthAdjust="spacingAndGlyphs">10</text>
<line x1="25.5" y1="356.04" x2="28.0" y2="356.04" stroke="#555" stroke-width="0.9"/>
<text x="23.4" y="359.44" text-anchor="end" class="tk" textLength="8.8" lengthAdjust="spacingAndGlyphs">15</text>
<line x1="25.5" y1="318.22" x2="28.0" y2="318.22" stroke="#555" stroke-width="0.9"/>
<text x="23.4" y="321.62" text-anchor="end" class="tk" textLength="8.8" lengthAdjust="spacingAndGlyphs">20</text>
<line x1="25.5" y1="280.40" x2="28.0" y2="280.40" stroke="#555" stroke-width="0.9"/>
<text x="23.4" y="283.80" text-anchor="end" class="tk" textLength="8.8" lengthAdjust="spacingAndGlyphs">25</text>
<line x1="28.00" y1="469.5" x2="28.00" y2="471.7" stroke="#555" stroke-width="0.9"/>
<text x="28.00" y="480.00" text-anchor="middle" class="tk" textLength="30" lengthAdjust="spacingAndGlyphs">2018-01</text>
<line x1="62.70" y1="469.5" x2="62.70" y2="470.9" stroke="#555" stroke-width="0.9"/>
<line x1="94.05" y1="469.5" x2="94.05" y2="471.7" stroke="#555" stroke-width="0.9"/>
<text x="94.05" y="480.00" text-anchor="middle" class="tk" textLength="30" lengthAdjust="spacingAndGlyphs">2018-03</text>
<line x1="128.75" y1="469.5" x2="128.75" y2="470.9" stroke="#555" stroke-width="0.9"/>
<line x1="162.33" y1="469.5" x2="162.33" y2="471.7" stroke="#555" stroke-width="0.9"/>
<text x="162.33" y="480.00" text-anchor="middle" class="tk" textLength="30" lengthAdjust="spacingAndGlyphs">2018-05</text>
<line x1="197.04" y1="469.5" x2="197.04" y2="470.9" stroke="#555" stroke-width="0.9"/>
<line x1="230.62" y1="469.5" x2="230.62" y2="471.7" stroke="#555" stroke-width="0.9"/>
<text x="230.62" y="480.00" text-anchor="middle" class="tk" textLength="30" lengthAdjust="spacingAndGlyphs">2018-07</text>
<line x1="265.32" y1="469.5" x2="265.32" y2="470.9" stroke="#555" stroke-width="0.9"/>
<line x1="300.03" y1="469.5" x2="300.03" y2="471.7" stroke="#555" stroke-width="0.9"/>
<text x="300.03" y="480.00" text-anchor="middle" class="tk" textLength="30" lengthAdjust="spacingAndGlyphs">2018-09</text>
<line x1="333.61" y1="469.5" x2="333.61" y2="470.9" stroke="#555" stroke-width="0.9"/>
<line x1="368.31" y1="469.5" x2="368.31" y2="471.7" stroke="#555" stroke-width="0.9"/>
<text x="368.31" y="480.00" text-anchor="middle" class="tk" textLength="30" lengthAdjust="spacingAndGlyphs">2018-11</text>
<line x1="401.90" y1="469.5" x2="401.90" y2="470.9" stroke="#555" stroke-width="0.9"/>
<line x1="436.60" y1="469.5" x2="436.60" y2="471.7" stroke="#555" stroke-width="0.9"/>
<text x="436.60" y="480.00" text-anchor="middle" class="tk" textLength="30" lengthAdjust="spacingAndGlyphs">2019-01</text>
<text x="232.30" y="492.00" text-anchor="middle" class="lb">Date</text>
<text transform="translate(10.4,374.95) rotate(-90)" text-anchor="middle" class="lb" textLength="47.3" lengthAdjust="spacingAndGlyphs">DO (mg/L)</text>
<rect x="361.5" y="284.4" width="71" height="24.8" rx="1.8" fill="#fff" fill-opacity="0.8" stroke="#d9d9d9" stroke-width="0.8"/>
<line x1="363.7" y1="290.50" x2="379.8" y2="290.50" stroke="#1f77b4" stroke-width="1.1"/>
<line x1="363.7" y1="301.70" x2="379.8" y2="301.70" stroke="#ff7f0e" stroke-width="1.1"/>
<text x="386.3" y="293.80" class="lg" textLength="42.5" lengthAdjust="spacingAndGlyphs">Observation</text>
<text x="386.3" y="305.00" class="lg" textLength="35.1" lengthAdjust="spacingAndGlyphs">Prediction</text>
<line x1="523.84" y1="280.4" x2="523.84" y2="478.59999999999997" stroke="#e4e4e4" stroke-width="0.8" stroke-dasharray="1.2,0.9"/>
<line x1="484.5" y1="438.96" x2="681.2" y2="438.96" stroke="#e4e4e4" stroke-width="0.8" stroke-dasharray="1.2,0.9"/>
<line x1="563.18" y1="280.4" x2="563.18" y2="478.59999999999997" stroke="#e4e4e4" stroke-width="0.8" stroke-dasharray="1.2,0.9"/>
<line x1="484.5" y1="399.32" x2="681.2" y2="399.32" stroke="#e4e4e4" stroke-width="0.8" stroke-dasharray="1.2,0.9"/>
<line x1="602.52" y1="280.4" x2="602.52" y2="478.59999999999997" stroke="#e4e4e4" stroke-width="0.8" stroke-dasharray="1.2,0.9"/>
<line x1="484.5" y1="359.68" x2="681.2" y2="359.68" stroke="#e4e4e4" stroke-width="0.8" stroke-dasharray="1.2,0.9"/>
<line x1="641.86" y1="280.4" x2="641.86" y2="478.59999999999997" stroke="#e4e4e4" stroke-width="0.8" stroke-dasharray="1.2,0.9"/>
<line x1="484.5" y1="320.04" x2="681.2" y2="320.04" stroke="#e4e4e4" stroke-width="0.8" stroke-dasharray="1.2,0.9"/>
<clipPath id="sc1"><rect x="484.5" y="280.4" width="196.70000000000005" height="198.2"/></clipPath>
<path clip-path="url(#sc1)" fill="#0000ff" d="M570.3 392.8h2v2h-2zM568.6 387.4h2v2h-2zM572.6 390.1h2v2h-2zM567.7 389.1h2v2h-2zM567.7 388.2h2v2h-2zM567.1 387.1h2v2h-2zM571.0 388.0h2v2h-2zM563.4 393.7h2v2h-2zM563.2 390.5h2v2h-2zM565.5 391.2h2v2h-2zM569.2 393.7h2v2h-2zM574.8 384.7h2v2h-2zM580.8 383.1h2v2h-2zM579.5 383.2h2v2h-2zM578.3 391.4h2v2h-2zM570.6 396.6h2v2h-2zM557.6 405.3h2v2h-2zM553.7 411.5h2v2h-2zM548.0 409.4h2v2h-2zM557.4 394.5h2v2h-2zM561.8 396.6h2v2h-2zM566.5 402.9h2v2h-2zM565.9 395.0h2v2h-2zM566.9 387.0h2v2h-2zM563.7 402.0h2v2h-2zM567.5 405.8h2v2h-2zM580.1 394.2h2v2h-2zM581.7 386.4h2v2h-2zM579.1 383.4h2v2h-2zM578.2 388.1h2v2h-2zM576.0 390.2h2v2h-2zM577.2 389.9h2v2h-2zM577.2 381.3h2v2h-2zM576.7 377.0h2v2h-2zM576.3 385.3h2v2h-2zM577.8 388.5h2v2h-2zM580.3 382.4h2v2h-2zM580.0 379.6h2v2h-2zM580.6 379.4h2v2h-2zM580.3 380.9h2v2h-2zM579.0 387.3h2v2h-2zM574.3 400.8h2v2h-2zM569.9 397.1h2v2h-2zM577.9 382.1h2v2h-2zM576.3 377.6h2v2h-2zM570.7 399.8h2v2h-2zM569.9 396.6h2v2h-2zM573.9 390.9h2v2h-2zM574.9 391.5h2v2h-2zM572.7 386.4h2v2h-2zM570.5 385.4h2v2h-2zM575.1 381.6h2v2h-2zM567.6 400.0h2v2h-2zM568.3 407.6h2v2h-2zM568.7 402.3h2v2h-2zM567.3 398.0h2v2h-2zM567.2 406.2h2v2h-2zM556.6 420.9h2v2h-2zM552.8 408.0h2v2h-2zM555.8 385.5h2v2h-2zM558.7 393.3h2v2h-2zM556.5 400.5h2v2h-2zM544.8 444.3h2v2h-2zM557.9 402.6h2v2h-2zM556.7 382.4h2v2h-2zM551.5 399.2h2v2h-2zM555.0 397.3h2v2h-2zM557.7 402.3h2v2h-2zM558.4 405.5h2v2h-2zM553.8 405.1h2v2h-2zM542.7 442.7h2v2h-2zM545.1 464.6h2v2h-2zM549.9 431.1h2v2h-2zM542.5 403.5h2v2h-2zM538.3 417.2h2v2h-2zM543.9 445.8h2v2h-2zM536.4 411.2h2v2h-2zM532.5 417.2h2v2h-2zM529.3 421.4h2v2h-2zM525.1 423.1h2v2h-2zM541.5 415.0h2v2h-2zM547.1 417.5h2v2h-2zM546.7 415.5h2v2h-2zM545.8 416.5h2v2h-2zM549.2 418.4h2v2h-2zM551.6 418.1h2v2h-2zM549.7 410.9h2v2h-2zM545.0 416.7h2v2h-2zM539.4 421.4h2v2h-2zM535.6 414.8h2v2h-2zM541.2 412.5h2v2h-2zM546.5 426.3h2v2h-2zM552.3 405.7h2v2h-2zM547.5 401.1h2v2h-2zM544.7 413.5h2v2h-2zM548.5 424.1h2v2h-2zM549.2 419.1h2v2h-2zM546.4 416.4h2v2h-2zM535.3 435.4h2v2h-2zM537.2 447.4h2v2h-2zM541.6 392.8h2v2h-2zM547.7 408.3h2v2h-2zM545.7 422.3h2v2h-2zM543.5 420.1h2v2h-2zM540.6 419.7h2v2h-2zM540.3 423.5h2v2h-2zM537.5 433.5h2v2h-2zM543.2 456.6h2v2h-2zM542.1 464.9h2v2h-2zM534.3 414.8h2v2h-2zM532.9 425.1h2v2h-2zM533.4 409.5h2v2h-2zM539.4 417.0h2v2h-2zM536.9 416.3h2v2h-2zM535.4 424.6h2v2h-2zM536.7 424.1h2v2h-2zM511.7 434.6h2v2h-2zM514.4 438.4h2v2h-2zM530.7 415.8h2v2h-2zM539.7 418.7h2v2h-2zM529.6 427.6h2v2h-2zM523.2 438.3h2v2h-2zM513.7 470.1h2v2h-2zM522.9 424.5h2v2h-2zM527.0 429.6h2v2h-2zM518.9 433.1h2v2h-2zM509.8 441.2h2v2h-2zM517.5 440.6h2v2h-2zM522.8 447.5h2v2h-2zM517.1 455.0h2v2h-2zM513.8 448.7h2v2h-2zM523.4 434.4h2v2h-2zM529.5 431.4h2v2h-2zM534.6 426.2h2v2h-2zM532.9 430.7h2v2h-2zM521.7 435.1h2v2h-2zM505.5 440.4h2v2h-2zM511.4 449.0h2v2h-2zM532.5 430.6h2v2h-2zM522.7 434.2h2v2h-2zM521.6 430.5h2v2h-2zM531.8 424.1h2v2h-2zM536.0 428.9h2v2h-2zM534.6 427.0h2v2h-2zM532.6 442.6h2v2h-2zM531.8 428.3h2v2h-2zM531.4 425.7h2v2h-2zM522.7 431.6h2v2h-2zM515.9 444.3h2v2h-2zM513.8 454.7h2v2h-2zM509.9 428.8h2v2h-2zM509.7 432.2h2v2h-2zM520.4 439.5h2v2h-2zM525.4 440.1h2v2h-2zM534.5 429.5h2v2h-2zM524.7 430.3h2v2h-2zM511.8 440.5h2v2h-2zM521.8 448.3h2v2h-2zM531.0 439.4h2v2h-2zM529.1 427.0h2v2h-2zM522.9 435.2h2v2h-2zM520.2 440.4h2v2h-2zM499.7 450.9h2v2h-2zM518.1 463.5h2v2h-2zM510.5 453.1h2v2h-2zM500.2 428.1h2v2h-2zM504.3 426.0h2v2h-2zM525.6 460.0h2v2h-2zM522.3 470.7h2v2h-2zM511.1 427.6h2v2h-2zM507.4 436.5h2v2h-2zM511.8 453.0h2v2h-2zM520.5 444.3h2v2h-2zM523.7 442.7h2v2h-2zM525.7 443.4h2v2h-2zM525.5 445.9h2v2h-2zM526.2 436.6h2v2h-2zM533.2 435.3h2v2h-2zM528.8 435.6h2v2h-2zM527.2 432.7h2v2h-2zM528.0 433.4h2v2h-2zM525.4 438.1h2v2h-2zM527.4 435.5h2v2h-2zM532.8 436.0h2v2h-2zM510.7 447.3h2v2h-2zM513.0 447.5h2v2h-2zM523.3 440.8h2v2h-2zM521.6 438.2h2v2h-2zM526.8 439.4h2v2h-2zM525.6 443.2h2v2h-2zM524.9 441.6h2v2h-2zM527.2 433.2h2v2h-2zM529.2 434.7h2v2h-2zM528.0 435.7h2v2h-2zM526.3 451.1h2v2h-2zM528.9 463.1h2v2h-2zM529.6 431.6h2v2h-2zM529.3 436.0h2v2h-2zM528.2 436.2h2v2h-2zM526.5 430.9h2v2h-2zM526.7 446.0h2v2h-2zM516.5 463.5h2v2h-2zM513.0 457.0h2v2h-2zM527.7 431.8h2v2h-2zM528.2 436.3h2v2h-2zM527.2 433.8h2v2h-2zM523.3 435.3h2v2h-2zM514.3 460.9h2v2h-2zM522.5 438.0h2v2h-2zM514.9 449.8h2v2h-2zM520.0 452.8h2v2h-2zM524.1 443.8h2v2h-2zM529.5 441.6h2v2h-2zM524.7 452.0h2v2h-2zM525.3 453.0h2v2h-2zM528.5 465.4h2v2h-2zM526.6 471.6h2v2h-2zM524.8 446.3h2v2h-2zM518.7 422.6h2v2h-2zM503.4 436.5h2v2h-2zM511.3 444.0h2v2h-2zM519.1 442.2h2v2h-2zM516.0 438.6h2v2h-2zM509.9 449.4h2v2h-2zM522.6 461.5h2v2h-2zM529.2 446.3h2v2h-2zM531.1 428.5h2v2h-2zM539.3 426.6h2v2h-2zM530.1 429.0h2v2h-2zM527.0 438.6h2v2h-2zM518.2 459.8h2v2h-2zM512.9 453.4h2v2h-2zM523.9 438.7h2v2h-2zM534.4 432.7h2v2h-2zM531.9 432.1h2v2h-2zM513.3 449.7h2v2h-2zM511.6 458.4h2v2h-2zM512.9 449.0h2v2h-2zM519.8 438.7h2v2h-2zM538.1 434.7h2v2h-2zM537.2 431.7h2v2h-2zM537.4 439.6h2v2h-2zM541.1 426.0h2v2h-2zM535.5 417.2h2v2h-2zM516.3 455.2h2v2h-2zM514.4 452.0h2v2h-2zM529.8 430.4h2v2h-2zM533.9 427.3h2v2h-2zM534.0 428.2h2v2h-2zM536.5 458.8h2v2h-2zM535.2 472.7h2v2h-2zM522.7 410.6h2v2h-2zM520.4 413.7h2v2h-2zM525.7 435.7h2v2h-2zM543.8 419.9h2v2h-2zM545.2 420.1h2v2h-2zM541.9 418.4h2v2h-2zM545.4 412.8h2v2h-2zM545.4 414.8h2v2h-2zM550.7 415.1h2v2h-2zM550.2 411.7h2v2h-2zM551.9 411.6h2v2h-2zM551.4 412.0h2v2h-2zM547.5 413.4h2v2h-2zM550.9 412.7h2v2h-2zM542.8 414.4h2v2h-2zM539.6 414.4h2v2h-2zM545.5 413.1h2v2h-2zM548.4 416.6h2v2h-2zM549.8 412.0h2v2h-2zM551.0 415.3h2v2h-2zM553.8 410.8h2v2h-2zM555.2 406.8h2v2h-2zM554.9 412.6h2v2h-2zM552.6 410.2h2v2h-2zM549.6 416.6h2v2h-2zM548.5 408.0h2v2h-2zM539.9 461.5h2v2h-2zM544.5 390.1h2v2h-2zM547.1 421.2h2v2h-2zM550.5 415.2h2v2h-2zM552.8 422.7h2v2h-2zM553.0 414.2h2v2h-2zM555.2 410.3h2v2h-2zM558.5 404.3h2v2h-2zM560.7 407.0h2v2h-2zM559.6 402.1h2v2h-2zM558.8 400.2h2v2h-2zM557.1 390.1h2v2h-2zM558.2 407.8h2v2h-2zM554.4 406.3h2v2h-2zM554.8 398.0h2v2h-2zM554.0 405.7h2v2h-2zM562.0 402.0h2v2h-2zM562.1 403.6h2v2h-2zM543.8 409.6h2v2h-2zM539.7 412.8h2v2h-2zM533.3 427.5h2v2h-2zM545.0 435.8h2v2h-2zM556.1 423.9h2v2h-2zM562.5 409.2h2v2h-2zM570.0 396.5h2v2h-2zM569.1 390.3h2v2h-2zM569.0 384.7h2v2h-2zM568.9 400.6h2v2h-2zM570.2 393.4h2v2h-2zM572.0 390.2h2v2h-2zM574.8 383.5h2v2h-2zM563.1 378.1h2v2h-2zM558.5 386.8h2v2h-2zM565.8 396.4h2v2h-2zM566.9 397.4h2v2h-2zM564.8 395.2h2v2h-2zM562.2 400.1h2v2h-2zM566.5 405.0h2v2h-2zM564.6 394.8h2v2h-2zM570.3 410.8h2v2h-2zM575.5 402.4h2v2h-2zM580.2 380.1h2v2h-2zM584.4 391.2h2v2h-2zM581.3 392.4h2v2h-2zM578.0 378.5h2v2h-2zM580.1 379.6h2v2h-2zM580.4 377.8h2v2h-2zM579.8 383.3h2v2h-2z"/>
<line clip-path="url(#sc1)" x1="484.50" y1="476.35" x2="681.20" y2="292.44" stroke="#000" stroke-width="1.1" stroke-dasharray="2.5,1.8"/>
<line x1="484.0" y1="280.4" x2="681.7" y2="280.4" stroke="#8f8f8f" stroke-width="1.2"/>
<line x1="484.0" y1="478.59999999999997" x2="681.7" y2="478.59999999999997" stroke="#7a7a7a" stroke-width="1.2"/>
<line x1="484.5" y1="280.4" x2="484.5" y2="478.59999999999997" stroke="#666" stroke-width="1.1"/>
<line x1="681.2" y1="280.4" x2="681.2" y2="478.59999999999997" stroke="#a8a8a8" stroke-width="1.5"/>
<line x1="484.50" y1="478.59999999999997" x2="484.50" y2="480.2" stroke="#555" stroke-width="0.8"/>
<line x1="482.9" y1="478.60" x2="484.5" y2="478.60" stroke="#555" stroke-width="0.8"/>
<text x="484.50" y="486.40" text-anchor="middle" class="st">0</text>
<text x="481.10" y="481.00" text-anchor="end" class="st">0</text>
<line x1="523.84" y1="478.59999999999997" x2="523.84" y2="480.2" stroke="#555" stroke-width="0.8"/>
<line x1="482.9" y1="438.96" x2="484.5" y2="438.96" stroke="#555" stroke-width="0.8"/>
<text x="523.84" y="486.40" text-anchor="middle" class="st">5</text>
<text x="481.10" y="441.36" text-anchor="end" class="st">5</text>
<line x1="563.18" y1="478.59999999999997" x2="563.18" y2="480.2" stroke="#555" stroke-width="0.8"/>
<line x1="482.9" y1="399.32" x2="484.5" y2="399.32" stroke="#555" stroke-width="0.8"/>
<text x="563.18" y="486.40" text-anchor="middle" class="st">10</text>
<text x="481.10" y="401.72" text-anchor="end" class="st">10</text>
<line x1="602.52" y1="478.59999999999997" x2="602.52" y2="480.2" stroke="#555" stroke-width="0.8"/>
<line x1="482.9" y1="359.68" x2="484.5" y2="359.68" stroke="#555" stroke-width="0.8"/>
<text x="602.52" y="486.40" text-anchor="middle" class="st">15</text>
<text x="481.10" y="362.08" text-anchor="end" class="st">15</text>
<line x1="641.86" y1="478.59999999999997" x2="641.86" y2="480.2" stroke="#555" stroke-width="0.8"/>
<line x1="482.9" y1="320.04" x2="484.5" y2="320.04" stroke="#555" stroke-width="0.8"/>
<text x="641.86" y="486.40" text-anchor="middle" class="st">20</text>
<text x="481.10" y="322.44" text-anchor="end" class="st">20</text>
<line x1="681.20" y1="478.59999999999997" x2="681.20" y2="480.2" stroke="#555" stroke-width="0.8"/>
<line x1="482.9" y1="280.40" x2="484.5" y2="280.40" stroke="#555" stroke-width="0.8"/>
<text x="681.20" y="486.40" text-anchor="middle" class="st">25</text>
<text x="481.10" y="282.80" text-anchor="end" class="st">25</text>
<text x="582.85" y="494.90" text-anchor="middle" class="sl" textLength="61.1" lengthAdjust="spacingAndGlyphs">Observation (mg/L)</text>
<text transform="translate(471.6,379.50) rotate(-90)" text-anchor="middle" class="sl" textLength="54.5" lengthAdjust="spacingAndGlyphs">Prediction (mg/L)</text>
<text x="508.0" y="288.40" class="eq" textLength="78.4" lengthAdjust="spacingAndGlyphs">y=0,927892x+0,283968</text>
<text x="226.9" y="520.2" text-anchor="middle" class="cap" textLength="17.3" lengthAdjust="spacingAndGlyphs">(<tspan font-size="12.6px">c</tspan>)</text>
<text x="575.3" y="519.9" text-anchor="middle" class="cap" textLength="17.3" lengthAdjust="spacingAndGlyphs">(<tspan font-size="12.6px">d</tspan>)</text>
<clipPath id="cp2"><rect x="28.0" y="556.6" width="408.6" height="189.1"/></clipPath>
<g clip-path="url(#cp2)" fill="none" stroke-width="0.85" stroke-linejoin="round">
<polyline stroke="#1f77b4" points="28.1,698.9 30.2,683.5 32.3,679.3 34.4,671.0 36.5,666.1 38.6,663.3 40.7,647.9 42.1,652.7 43.5,658.4 44.9,682.1 46.7,691.2 48.4,678.0 50.5,669.6 51.9,667.5 53.2,664.0 54.4,654.9 55.6,643.0 57.4,651.4 58.8,646.0 60.2,643.0 61.4,655.3 62.6,669.6 63.8,671.8 65.1,676.5 66.5,657.1 67.9,638.1 70.0,652.8 71.4,657.1 72.8,658.4 74.2,652.5 75.6,647.9 76.8,649.8 77.9,652.2 79.1,655.6 80.3,653.2 81.4,649.4 82.6,650.0 84.0,653.8 85.4,659.1 86.8,656.1 88.2,654.2 89.6,658.7 91.0,661.2 93.1,689.1 94.0,689.1 96.1,673.8 98.2,691.9 100.3,671.7 102.4,683.5 104.5,672.4 105.9,675.1 107.3,678.0 108.4,689.1 109.6,700.3 110.9,693.7 112.2,689.1 114.3,712.2 116.4,700.3 117.8,714.3 119.4,719.2 121.2,691.9 123.3,691.2 125.4,684.9 127.5,667.5 129.6,686.3 131.7,719.9 133.8,696.1 135.9,682.1 137.2,672.7 138.4,665.4 139.6,678.6 140.8,691.9 142.0,694.9 143.1,699.1 144.3,701.7 145.7,691.0 147.1,681.4 149.2,689.1 151.0,673.1 152.2,699.7 153.4,725.5 154.8,693.3 156.9,717.1 158.3,693.9 159.7,672.4 161.8,684.9 163.4,738.1 164.8,719.9 166.9,705.2 169.0,719.9 170.4,719.9 172.5,706.6 174.6,708.7 176.7,732.5 178.8,715.7 179.5,743.0 180.9,742.3 182.3,723.8 183.7,705.2 185.8,711.5 187.8,726.9 189.2,712.7 190.6,697.5 192.5,726.2 193.9,701.7 195.5,724.1 197.6,714.3 199.7,721.3 201.8,739.5 203.9,728.3 205.3,722.1 206.7,714.3 208.1,725.2 209.5,736.7 211.6,705.2 213.7,733.9 215.8,722.7 217.9,740.9 219.3,732.5 220.7,719.9 222.1,723.9 223.5,725.5 225.6,742.3 227.7,728.3 229.8,733.9 231.7,742.3 233.5,729.7 235.3,743.7 236.5,732.7 237.7,721.3 239.8,725.5 241.2,728.2 242.6,729.0 244.0,719.6 245.4,708.7 247.5,712.9 248.7,718.0 249.8,724.5 251.0,729.0 252.4,723.4 253.8,717.1 255.8,711.5 257.9,722.7 260.0,736.0 262.1,728.3 264.2,719.9 265.6,726.9 267.7,698.9 269.5,666.8 271.6,717.1 272.8,699.7 274.0,684.9 276.1,714.3 277.5,711.5 279.6,677.2 281.7,740.9 283.1,729.6 284.5,719.9 285.7,722.4 286.8,721.7 288.0,724.1 289.2,727.6 290.3,730.5 291.5,736.7 292.7,730.4 293.8,723.4 295.0,718.5 296.4,722.4 297.8,728.3 299.7,708.7 301.5,722.7 303.3,740.9 304.5,737.4 305.7,732.5 307.1,724.5 308.5,717.1 309.7,711.8 310.8,706.3 312.0,700.3 314.1,722.7 315.5,730.6 316.9,736.7 318.3,726.4 319.7,717.1 321.8,735.3 323.1,731.7 324.5,731.1 325.9,727.2 327.3,722.7 329.4,715.7 331.5,725.5 333.1,731.9 334.6,736.0 336.8,714.3 338.8,708.0 340.6,736.7 341.8,734.5 343.0,728.3 344.2,711.8 345.5,693.3 346.9,693.6 348.3,691.9 349.7,691.9 351.1,690.6 352.5,691.2 353.9,697.5 355.3,687.7 356.7,686.6 358.1,686.0 359.5,683.5 360.6,671.0 362.6,717.1 363.9,715.2 365.1,713.6 366.0,715.0 367.4,711.3 368.8,707.3 370.1,700.1 371.3,689.1 372.9,692.2 374.4,693.3 375.8,699.3 377.2,701.7 378.6,706.4 380.0,711.5 381.2,702.5 382.5,694.7 383.7,697.1 384.9,700.3 386.5,690.2 388.1,680.7 389.3,684.0 390.5,688.4 391.9,687.9 393.2,687.7 394.4,686.1 395.6,684.9 397.4,676.5 399.5,675.8 400.9,678.7 402.3,682.1 403.7,701.1 405.1,718.5 406.5,711.8 407.9,701.7 409.3,696.6 410.7,691.9 412.8,680.7 414.0,681.5 415.1,679.6 416.3,679.3 417.5,681.6 418.6,686.5 419.8,689.8 421.9,672.4 423.3,676.5 424.7,680.7 425.9,684.9 427.2,689.1 428.4,681.2 429.6,672.4 431.0,672.4 432.4,672.4 434.5,657.0 435.6,640.2"/>
<polyline stroke="#ff7f0e" points="28.1,662.6 29.1,694.7 30.9,687.7 32.3,673.8 33.7,684.9 35.8,673.8 37.2,681.4 38.6,664.8 40.0,648.6 41.4,653.7 42.8,657.7 44.9,640.2 46.3,647.2 47.7,683.5 49.8,671.0 51.1,674.8 52.5,676.5 53.9,659.1 55.3,673.1 57.4,662.6 59.5,654.2 61.6,638.1 63.7,678.0 65.8,668.2 67.2,658.6 68.6,648.6 70.0,643.8 71.4,640.2 72.8,665.4 74.4,651.6 76.0,639.5 77.5,650.8 79.1,665.4 81.2,650.0 82.6,654.1 84.0,657.0 85.4,655.3 86.8,654.1 88.2,651.4 90.3,672.4 92.4,666.8 94.0,694.7 95.4,687.7 96.8,679.3 98.5,700.3 100.7,675.2 102.7,691.9 104.0,683.3 105.2,675.2 106.6,680.0 108.0,683.5 109.2,693.8 110.5,704.5 111.9,684.2 113.1,696.2 114.3,708.7 116.4,696.8 118.5,706.6 119.8,694.7 121.9,689.8 123.1,693.2 124.2,696.1 125.4,700.3 126.8,684.7 128.2,669.6 129.6,679.5 131.0,689.1 133.1,714.3 135.2,708.7 137.3,683.5 139.4,684.2 140.8,677.5 142.2,672.4 144.3,716.4 145.7,702.1 147.1,689.1 149.2,683.5 150.6,687.7 152.0,691.9 154.1,708.7 155.5,697.5 157.6,717.1 159.0,699.3 160.4,686.3 162.0,691.9 164.1,732.5 165.9,710.1 167.1,713.8 168.3,717.1 170.4,708.7 171.8,705.8 173.2,701.0 175.3,708.7 176.7,728.3 178.8,717.1 180.0,724.4 181.1,728.5 182.3,735.3 184.4,699.6 186.5,710.1 187.8,732.5 189.7,708.7 191.3,698.2 193.4,715.7 195.5,708.7 196.8,703.0 198.0,698.2 199.7,717.1 201.1,728.9 202.5,742.3 204.6,722.7 206.7,707.3 208.1,719.8 209.5,732.5 210.9,719.2 212.3,703.8 213.7,712.2 215.1,721.3 217.2,721.3 219.3,735.3 221.4,715.7 222.6,718.6 223.7,721.5 224.9,724.1 227.0,740.9 229.1,731.1 230.0,733.9 232.1,743.7 234.2,732.5 236.3,742.3 237.9,725.4 239.5,708.7 241.2,725.5 242.6,721.4 244.0,722.7 246.1,704.5 247.5,705.8 248.9,711.5 250.3,722.9 251.7,732.5 253.1,722.6 254.5,714.3 256.5,714.3 257.7,722.8 258.8,729.4 260.0,736.7 261.4,730.5 262.8,725.5 264.9,724.1 266.3,715.1 267.7,708.7 268.9,702.1 270.2,697.5 271.9,711.5 274.0,698.9 275.2,709.9 276.4,721.3 278.2,712.9 280.3,698.2 281.6,719.4 282.8,739.5 284.0,723.4 285.2,710.1 287.0,728.3 288.7,725.5 289.9,729.6 291.0,737.2 292.2,741.6 293.6,736.7 295.0,732.5 296.4,722.2 297.8,714.3 299.0,720.9 300.1,725.5 301.1,712.9 302.4,726.9 303.6,739.5 305.1,733.4 306.7,726.9 307.9,720.7 309.2,715.7 310.4,710.2 311.7,704.5 313.2,717.7 314.8,731.1 316.2,734.5 317.6,736.0 319.0,727.3 320.4,718.5 322.5,731.1 324.5,738.1 326.6,726.9 328.0,721.9 329.4,715.7 331.5,728.3 333.1,726.0 334.6,722.7 336.2,720.5 337.8,715.7 339.9,732.5 341.3,730.7 342.7,726.9 343.9,718.7 345.0,708.0 346.2,700.3 347.6,697.4 349.0,693.3 350.4,692.8 351.8,694.5 353.2,693.3 354.6,705.2 356.0,694.7 357.4,692.9 358.8,691.9 360.0,688.2 361.2,684.9 363.0,703.1 365.1,708.0 366.0,705.9 368.1,711.5 369.9,707.3 371.1,699.9 372.3,691.9 373.7,695.5 375.1,697.5 376.5,701.7 377.9,703.1 379.3,694.7 380.7,712.2 382.8,692.6 384.2,694.5 385.6,697.5 387.1,690.6 388.6,682.1 389.8,685.6 390.9,691.2 392.5,687.7 393.9,692.6 395.3,688.2 396.7,684.9 397.9,680.9 399.0,679.5 400.2,677.2 401.4,682.2 402.6,687.7 403.9,704.1 405.1,719.9 406.5,716.1 407.9,708.7 409.3,694.8 410.7,680.7 412.1,684.0 413.5,690.5 415.2,673.1 417.0,678.0 418.4,676.5 420.5,687.7 421.9,681.3 423.3,676.5 424.7,682.8 426.1,686.9 427.5,693.3 428.9,683.8 430.3,675.2 431.7,678.5 433.1,682.1 434.5,662.6 435.6,660.5"/>
</g>
<line x1="28.0" y1="556.6" x2="28.0" y2="745.7" stroke="#bdbdbd" stroke-width="1.8"/>
<line x1="27.5" y1="556.6" x2="437.1" y2="556.6" stroke="#6a6a6a" stroke-width="1.2"/>
<line x1="27.5" y1="745.7" x2="437.1" y2="745.7" stroke="#6a6a6a" stroke-width="1.2"/>
<line x1="436.6" y1="556.6" x2="436.6" y2="745.7" stroke="#6a6a6a" stroke-width="1.2"/>
<line x1="25.5" y1="745.70" x2="28.0" y2="745.70" stroke="#555" stroke-width="0.9"/>
<text x="23.4" y="749.10" text-anchor="end" class="tk">0</text>
<line x1="25.5" y1="707.88" x2="28.0" y2="707.88" stroke="#555" stroke-width="0.9"/>
<text x="23.4" y="711.28" text-anchor="end" class="tk">5</text>
<line x1="25.5" y1="670.06" x2="28.0" y2="670.06" stroke="#555" stroke-width="0.9"/>
<text x="23.4" y="673.46" text-anchor="end" class="tk" textLength="8.8" lengthAdjust="spacingAndGlyphs">10</text>
<line x1="25.5" y1="632.24" x2="28.0" y2="632.24" stroke="#555" stroke-width="0.9"/>
<text x="23.4" y="635.64" text-anchor="end" class="tk" textLength="8.8" lengthAdjust="spacingAndGlyphs">15</text>
<line x1="25.5" y1="594.42" x2="28.0" y2="594.42" stroke="#555" stroke-width="0.9"/>
<text x="23.4" y="597.82" text-anchor="end" class="tk" textLength="8.8" lengthAdjust="spacingAndGlyphs">20</text>
<line x1="25.5" y1="556.60" x2="28.0" y2="556.60" stroke="#555" stroke-width="0.9"/>
<text x="23.4" y="560.00" text-anchor="end" class="tk" textLength="8.8" lengthAdjust="spacingAndGlyphs">25</text>
<line x1="28.00" y1="745.7" x2="28.00" y2="747.9000000000001" stroke="#555" stroke-width="0.9"/>
<text x="28.00" y="756.20" text-anchor="middle" class="tk" textLength="30" lengthAdjust="spacingAndGlyphs">2018-01</text>
<line x1="62.70" y1="745.7" x2="62.70" y2="747.1" stroke="#555" stroke-width="0.9"/>
<line x1="94.05" y1="745.7" x2="94.05" y2="747.9000000000001" stroke="#555" stroke-width="0.9"/>
<text x="94.05" y="756.20" text-anchor="middle" class="tk" textLength="30" lengthAdjust="spacingAndGlyphs">2018-03</text>
<line x1="128.75" y1="745.7" x2="128.75" y2="747.1" stroke="#555" stroke-width="0.9"/>
<line x1="162.33" y1="745.7" x2="162.33" y2="747.9000000000001" stroke="#555" stroke-width="0.9"/>
<text x="162.33" y="756.20" text-anchor="middle" class="tk" textLength="30" lengthAdjust="spacingAndGlyphs">2018-05</text>
<line x1="197.04" y1="745.7" x2="197.04" y2="747.1" stroke="#555" stroke-width="0.9"/>
<line x1="230.62" y1="745.7" x2="230.62" y2="747.9000000000001" stroke="#555" stroke-width="0.9"/>
<text x="230.62" y="756.20" text-anchor="middle" class="tk" textLength="30" lengthAdjust="spacingAndGlyphs">2018-07</text>
<line x1="265.32" y1="745.7" x2="265.32" y2="747.1" stroke="#555" stroke-width="0.9"/>
<line x1="300.03" y1="745.7" x2="300.03" y2="747.9000000000001" stroke="#555" stroke-width="0.9"/>
<text x="300.03" y="756.20" text-anchor="middle" class="tk" textLength="30" lengthAdjust="spacingAndGlyphs">2018-09</text>
<line x1="333.61" y1="745.7" x2="333.61" y2="747.1" stroke="#555" stroke-width="0.9"/>
<line x1="368.31" y1="745.7" x2="368.31" y2="747.9000000000001" stroke="#555" stroke-width="0.9"/>
<text x="368.31" y="756.20" text-anchor="middle" class="tk" textLength="30" lengthAdjust="spacingAndGlyphs">2018-11</text>
<line x1="401.90" y1="745.7" x2="401.90" y2="747.1" stroke="#555" stroke-width="0.9"/>
<line x1="436.60" y1="745.7" x2="436.60" y2="747.9000000000001" stroke="#555" stroke-width="0.9"/>
<text x="436.60" y="756.20" text-anchor="middle" class="tk" textLength="30" lengthAdjust="spacingAndGlyphs">2019-01</text>
<text x="232.30" y="768.20" text-anchor="middle" class="lb">Date</text>
<text transform="translate(10.4,651.15) rotate(-90)" text-anchor="middle" class="lb" textLength="47.3" lengthAdjust="spacingAndGlyphs">DO (mg/L)</text>
<rect x="361.5" y="560.6" width="71" height="24.8" rx="1.8" fill="#fff" fill-opacity="0.8" stroke="#d9d9d9" stroke-width="0.8"/>
<line x1="363.7" y1="566.70" x2="379.8" y2="566.70" stroke="#1f77b4" stroke-width="1.1"/>
<line x1="363.7" y1="577.90" x2="379.8" y2="577.90" stroke="#ff7f0e" stroke-width="1.1"/>
<text x="386.3" y="570.00" class="lg" textLength="42.5" lengthAdjust="spacingAndGlyphs">Observation</text>
<text x="386.3" y="581.20" class="lg" textLength="35.1" lengthAdjust="spacingAndGlyphs">Prediction</text>
<line x1="523.84" y1="556.6" x2="523.84" y2="754.8" stroke="#e4e4e4" stroke-width="0.8" stroke-dasharray="1.2,0.9"/>
<line x1="484.5" y1="715.16" x2="681.2" y2="715.16" stroke="#e4e4e4" stroke-width="0.8" stroke-dasharray="1.2,0.9"/>
<line x1="563.18" y1="556.6" x2="563.18" y2="754.8" stroke="#e4e4e4" stroke-width="0.8" stroke-dasharray="1.2,0.9"/>
<line x1="484.5" y1="675.52" x2="681.2" y2="675.52" stroke="#e4e4e4" stroke-width="0.8" stroke-dasharray="1.2,0.9"/>
<line x1="602.52" y1="556.6" x2="602.52" y2="754.8" stroke="#e4e4e4" stroke-width="0.8" stroke-dasharray="1.2,0.9"/>
<line x1="484.5" y1="635.88" x2="681.2" y2="635.88" stroke="#e4e4e4" stroke-width="0.8" stroke-dasharray="1.2,0.9"/>
<line x1="641.86" y1="556.6" x2="641.86" y2="754.8" stroke="#e4e4e4" stroke-width="0.8" stroke-dasharray="1.2,0.9"/>
<line x1="484.5" y1="596.24" x2="681.2" y2="596.24" stroke="#e4e4e4" stroke-width="0.8" stroke-dasharray="1.2,0.9"/>
<clipPath id="sc2"><rect x="484.5" y="556.6" width="196.70000000000005" height="198.2"/></clipPath>
<path clip-path="url(#sc2)" fill="#0000ff" d="M529.5 665.2h2v2h-2zM543.6 700.3h2v2h-2zM547.3 694.9h2v2h-2zM549.8 692.1h2v2h-2zM552.3 678.8h2v2h-2zM557.1 689.0h2v2h-2zM561.0 686.9h2v2h-2zM562.7 678.8h2v2h-2zM567.7 681.5h2v2h-2zM568.4 688.2h2v2h-2zM570.2 669.7h2v2h-2zM578.6 653.4h2v2h-2zM582.5 653.4h2v2h-2zM576.3 662.4h2v2h-2zM572.8 652.9h2v2h-2zM550.2 641.0h2v2h-2zM540.0 651.5h2v2h-2zM538.9 661.2h2v2h-2zM548.4 689.1h2v2h-2zM554.5 684.2h2v2h-2zM559.9 674.5h2v2h-2zM560.9 674.9h2v2h-2zM566.0 678.2h2v2h-2zM571.3 669.5h2v2h-2zM576.2 664.8h2v2h-2zM586.4 678.4h2v2h-2zM593.0 676.4h2v2h-2zM581.4 667.1h2v2h-2zM588.1 657.7h2v2h-2zM589.2 651.3h2v2h-2zM576.3 641.7h2v2h-2zM562.8 661.8h2v2h-2zM559.4 679.5h2v2h-2zM554.2 675.0h2v2h-2zM563.7 669.5h2v2h-2zM595.7 658.0h2v2h-2zM590.3 650.1h2v2h-2zM582.3 645.2h2v2h-2zM575.9 641.3h2v2h-2zM573.8 670.7h2v2h-2zM586.6 645.1h2v2h-2zM585.5 643.6h2v2h-2zM576.3 671.2h2v2h-2zM582.8 653.5h2v2h-2zM583.7 656.4h2v2h-2zM579.6 661.1h2v2h-2zM574.1 659.0h2v2h-2zM580.0 654.1h2v2h-2zM572.6 677.9h2v2h-2zM571.1 674.4h2v2h-2zM553.6 670.0h2v2h-2zM542.9 683.0h2v2h-2zM542.9 699.5h2v2h-2zM559.9 689.6h2v2h-2zM552.3 684.6h2v2h-2zM540.0 702.9h2v2h-2zM539.3 705.2h2v2h-2zM559.7 687.2h2v2h-2zM559.3 679.7h2v2h-2zM546.9 697.0h2v2h-2zM549.4 696.5h2v2h-2zM560.1 685.5h2v2h-2zM558.1 679.8h2v2h-2zM555.1 685.1h2v2h-2zM547.5 686.2h2v2h-2zM530.5 704.1h2v2h-2zM536.3 710.4h2v2h-2zM540.5 692.1h2v2h-2zM541.4 692.8h2v2h-2zM518.8 716.0h2v2h-2zM531.6 701.6h2v2h-2zM516.0 709.5h2v2h-2zM512.4 712.7h2v2h-2zM510.3 705.7h2v2h-2zM517.7 700.8h2v2h-2zM540.4 698.5h2v2h-2zM542.2 695.2h2v2h-2zM540.0 701.8h2v2h-2zM546.4 705.8h2v2h-2zM561.8 680.5h2v2h-2zM560.1 670.3h2v2h-2zM546.6 682.1h2v2h-2zM522.0 692.6h2v2h-2zM509.3 702.1h2v2h-2zM523.1 718.6h2v2h-2zM536.1 719.0h2v2h-2zM543.7 714.4h2v2h-2zM551.8 708.9h2v2h-2zM560.5 689.3h2v2h-2zM568.8 687.3h2v2h-2zM555.3 691.8h2v2h-2zM541.1 682.7h2v2h-2zM533.4 677.0h2v2h-2zM531.3 723.6h2v2h-2zM550.3 694.0h2v2h-2zM540.7 688.6h2v2h-2zM558.4 695.8h2v2h-2zM534.9 697.5h2v2h-2zM504.9 711.7h2v2h-2zM520.2 712.9h2v2h-2zM536.2 709.2h2v2h-2zM529.2 702.0h2v2h-2zM512.9 718.2h2v2h-2zM525.2 721.2h2v2h-2zM560.7 698.2h2v2h-2zM557.2 691.0h2v2h-2zM547.3 696.4h2v2h-2zM542.1 696.9h2v2h-2zM487.9 726.8h2v2h-2zM500.8 740.1h2v2h-2zM511.7 731.1h2v2h-2zM516.5 715.9h2v2h-2zM525.3 717.3h2v2h-2zM515.7 722.2h2v2h-2zM508.1 720.5h2v2h-2zM509.5 714.1h2v2h-2zM525.0 709.3h2v2h-2zM523.0 707.6h2v2h-2zM524.1 714.6h2v2h-2zM517.1 716.8h2v2h-2zM497.1 737.2h2v2h-2zM513.1 723.9h2v2h-2zM486.3 727.9h2v2h-2zM486.2 734.6h2v2h-2zM504.3 741.2h2v2h-2zM525.1 717.0h2v2h-2zM522.8 705.7h2v2h-2zM518.6 713.5h2v2h-2zM514.8 716.9h2v2h-2zM504.6 739.1h2v2h-2zM524.4 716.3h2v2h-2zM533.1 710.9h2v2h-2zM523.2 704.3h2v2h-2zM503.8 713.0h2v2h-2zM520.5 720.6h2v2h-2zM527.9 719.7h2v2h-2zM501.6 717.7h2v2h-2zM517.4 706.0h2v2h-2zM513.9 703.0h2v2h-2zM508.2 722.3h2v2h-2zM489.9 741.0h2v2h-2zM493.7 751.5h2v2h-2zM501.2 736.0h2v2h-2zM507.4 731.9h2v2h-2zM516.3 713.8h2v2h-2zM493.2 740.5h2v2h-2zM524.4 716.2h2v2h-2zM515.5 709.6h2v2h-2zM496.4 721.5h2v2h-2zM503.4 728.4h2v2h-2zM507.9 727.7h2v2h-2zM493.5 726.1h2v2h-2zM489.0 734.1h2v2h-2zM498.0 744.1h2v2h-2zM509.7 730.0h2v2h-2zM507.8 720.9h2v2h-2zM504.8 728.0h2v2h-2zM494.4 731.0h2v2h-2zM487.4 736.4h2v2h-2zM495.5 749.9h2v2h-2zM501.8 743.8h2v2h-2zM499.2 740.8h2v2h-2zM496.8 738.2h2v2h-2zM495.6 742.4h2v2h-2zM485.4 751.0h2v2h-2zM489.2 752.7h2v2h-2zM499.2 745.5h2v2h-2zM493.8 741.2h2v2h-2zM485.9 746.5h2v2h-2zM495.3 751.9h2v2h-2zM508.4 735.1h2v2h-2zM505.9 714.6h2v2h-2zM503.5 718.9h2v2h-2zM502.2 732.4h2v2h-2zM501.0 732.3h2v2h-2zM509.5 729.4h2v2h-2zM520.8 717.4h2v2h-2zM518.6 712.2h2v2h-2zM516.1 714.1h2v2h-2zM510.7 718.2h2v2h-2zM500.7 735.4h2v2h-2zM504.4 740.0h2v2h-2zM513.7 724.9h2v2h-2zM513.7 722.6h2v2h-2zM521.7 721.6h2v2h-2zM517.1 720.0h2v2h-2zM505.7 730.3h2v2h-2zM492.6 743.3h2v2h-2zM500.9 732.2h2v2h-2zM504.8 734.4h2v2h-2zM511.2 731.1h2v2h-2zM506.7 731.7h2v2h-2zM499.4 725.1h2v2h-2zM536.2 714.2h2v2h-2zM566.8 708.5h2v2h-2zM549.3 701.7h2v2h-2zM512.2 715.4h2v2h-2zM517.6 718.4h2v2h-2zM548.0 704.7h2v2h-2zM515.5 725.0h2v2h-2zM518.4 729.4h2v2h-2zM519.2 723.4h2v2h-2zM533.2 717.5h2v2h-2zM554.8 710.6h2v2h-2zM534.8 704.9h2v2h-2zM486.2 727.2h2v2h-2zM499.1 748.6h2v2h-2zM511.0 725.8h2v2h-2zM508.9 716.1h2v2h-2zM508.7 736.8h2v2h-2zM505.6 734.3h2v2h-2zM504.5 733.9h2v2h-2zM494.2 746.4h2v2h-2zM498.1 749.1h2v2h-2zM514.9 739.9h2v2h-2zM503.5 720.5h2v2h-2zM525.5 730.1h2v2h-2zM519.7 731.5h2v2h-2zM510.9 720.9h2v2h-2zM508.0 723.7h2v2h-2zM488.4 741.7h2v2h-2zM487.8 747.6h2v2h-2zM497.4 738.7h2v2h-2zM501.3 734.1h2v2h-2zM512.8 726.7h2v2h-2zM516.3 721.6h2v2h-2zM528.4 710.6h2v2h-2zM529.2 713.6h2v2h-2zM507.6 731.1h2v2h-2zM503.7 736.8h2v2h-2zM494.8 744.4h2v2h-2zM498.8 744.3h2v2h-2zM514.6 730.3h2v2h-2zM506.3 727.3h2v2h-2zM493.9 733.1h2v2h-2zM493.7 735.5h2v2h-2zM497.5 744.7h2v2h-2zM506.2 732.3h2v2h-2zM507.1 733.9h2v2h-2zM514.5 723.0h2v2h-2zM503.7 737.4h2v2h-2zM495.8 728.6h2v2h-2zM516.1 724.8h2v2h-2zM521.0 722.6h2v2h-2zM522.7 730.1h2v2h-2zM505.8 738.9h2v2h-2zM491.5 736.2h2v2h-2zM498.6 732.1h2v2h-2zM503.2 730.4h2v2h-2zM537.6 714.1h2v2h-2zM538.7 704.4h2v2h-2zM540.7 700.6h2v2h-2zM540.6 701.0h2v2h-2zM540.6 698.6h2v2h-2zM535.2 699.2h2v2h-2zM532.7 705.2h2v2h-2zM538.8 710.0h2v2h-2zM544.7 707.8h2v2h-2zM545.3 699.4h2v2h-2zM548.0 695.7h2v2h-2zM547.1 696.9h2v2h-2zM561.2 689.9h2v2h-2zM548.2 691.0h2v2h-2zM512.0 706.0h2v2h-2zM513.0 707.8h2v2h-2zM518.2 714.3h2v2h-2zM517.7 714.7h2v2h-2zM522.0 718.9h2v2h-2zM523.5 715.3h2v2h-2zM530.4 714.3h2v2h-2zM542.2 704.8h2v2h-2zM539.8 697.4h2v2h-2zM538.2 701.8h2v2h-2zM536.8 704.3h2v2h-2zM529.9 709.0h2v2h-2zM528.5 708.5h2v2h-2zM520.2 698.6h2v2h-2zM517.3 713.1h2v2h-2zM525.9 718.1h2v2h-2zM538.0 699.7h2v2h-2zM534.5 699.4h2v2h-2zM530.9 700.0h2v2h-2zM533.7 705.4h2v2h-2zM551.1 688.5h2v2h-2zM549.9 684.8h2v2h-2zM544.5 692.8h2v2h-2zM541.8 700.5h2v2h-2zM541.9 692.9h2v2h-2zM544.6 697.0h2v2h-2zM544.2 697.6h2v2h-2zM548.7 691.2h2v2h-2zM550.5 689.5h2v2h-2zM554.6 686.1h2v2h-2zM552.4 686.0h2v2h-2zM556.2 683.2h2v2h-2zM551.5 692.4h2v2h-2zM546.2 692.1h2v2h-2zM511.4 725.0h2v2h-2zM526.4 716.2h2v2h-2zM537.5 687.0h2v2h-2zM550.4 692.1h2v2h-2zM554.1 697.8h2v2h-2zM553.4 676.9h2v2h-2zM551.7 682.0h2v2h-2zM551.0 683.0h2v2h-2zM546.8 678.3h2v2h-2zM542.4 689.5h2v2h-2zM546.4 692.9h2v2h-2zM559.1 688.3h2v2h-2zM556.8 680.5h2v2h-2zM552.1 685.0h2v2h-2zM541.9 696.7h2v2h-2zM548.0 700.7h2v2h-2zM560.1 684.1h2v2h-2zM559.2 677.7h2v2h-2zM561.0 686.7h2v2h-2zM566.2 687.3h2v2h-2zM575.6 668.0h2v2h-2zM595.8 665.3h2v2h-2z"/>
<line clip-path="url(#sc2)" x1="484.50" y1="748.51" x2="681.20" y2="577.85" stroke="#000" stroke-width="1.1" stroke-dasharray="2.5,1.8"/>
<line x1="484.0" y1="556.6" x2="681.7" y2="556.6" stroke="#8f8f8f" stroke-width="1.2"/>
<line x1="484.0" y1="754.8" x2="681.7" y2="754.8" stroke="#7a7a7a" stroke-width="1.2"/>
<line x1="484.5" y1="556.6" x2="484.5" y2="754.8" stroke="#666" stroke-width="1.1"/>
<line x1="681.2" y1="556.6" x2="681.2" y2="754.8" stroke="#a8a8a8" stroke-width="1.5"/>
<line x1="484.50" y1="754.8" x2="484.50" y2="756.4" stroke="#555" stroke-width="0.8"/>
<line x1="482.9" y1="754.80" x2="484.5" y2="754.80" stroke="#555" stroke-width="0.8"/>
<text x="484.50" y="762.60" text-anchor="middle" class="st">0</text>
<text x="481.10" y="757.20" text-anchor="end" class="st">0</text>
<line x1="523.84" y1="754.8" x2="523.84" y2="756.4" stroke="#555" stroke-width="0.8"/>
<line x1="482.9" y1="715.16" x2="484.5" y2="715.16" stroke="#555" stroke-width="0.8"/>
<text x="523.84" y="762.60" text-anchor="middle" class="st">5</text>
<text x="481.10" y="717.56" text-anchor="end" class="st">5</text>
<line x1="563.18" y1="754.8" x2="563.18" y2="756.4" stroke="#555" stroke-width="0.8"/>
<line x1="482.9" y1="675.52" x2="484.5" y2="675.52" stroke="#555" stroke-width="0.8"/>
<text x="563.18" y="762.60" text-anchor="middle" class="st">10</text>
<text x="481.10" y="677.92" text-anchor="end" class="st">10</text>
<line x1="602.52" y1="754.8" x2="602.52" y2="756.4" stroke="#555" stroke-width="0.8"/>
<line x1="482.9" y1="635.88" x2="484.5" y2="635.88" stroke="#555" stroke-width="0.8"/>
<text x="602.52" y="762.60" text-anchor="middle" class="st">15</text>
<text x="481.10" y="638.28" text-anchor="end" class="st">15</text>
<line x1="641.86" y1="754.8" x2="641.86" y2="756.4" stroke="#555" stroke-width="0.8"/>
<line x1="482.9" y1="596.24" x2="484.5" y2="596.24" stroke="#555" stroke-width="0.8"/>
<text x="641.86" y="762.60" text-anchor="middle" class="st">20</text>
<text x="481.10" y="598.64" text-anchor="end" class="st">20</text>
<line x1="681.20" y1="754.8" x2="681.20" y2="756.4" stroke="#555" stroke-width="0.8"/>
<line x1="482.9" y1="556.60" x2="484.5" y2="556.60" stroke="#555" stroke-width="0.8"/>
<text x="681.20" y="762.60" text-anchor="middle" class="st">25</text>
<text x="481.10" y="559.00" text-anchor="end" class="st">25</text>
<text x="582.85" y="771.10" text-anchor="middle" class="sl" textLength="61.1" lengthAdjust="spacingAndGlyphs">Observation (mg/L)</text>
<text transform="translate(471.6,655.70) rotate(-90)" text-anchor="middle" class="sl" textLength="54.5" lengthAdjust="spacingAndGlyphs">Prediction (mg/L)</text>
<text x="508.0" y="564.60" class="eq" textLength="78.4" lengthAdjust="spacingAndGlyphs">y=0,861029x+0,793771</text>
<text x="226.9" y="796.4000000000001" text-anchor="middle" class="cap" textLength="17.3" lengthAdjust="spacingAndGlyphs">(<tspan font-size="12.6px">e</tspan>)</text>
<text x="575.3" y="796.1" text-anchor="middle" class="cap" textLength="17.3" lengthAdjust="spacingAndGlyphs">(<tspan font-size="12.6px">f</tspan>)</text>
</svg>
</body></html>
